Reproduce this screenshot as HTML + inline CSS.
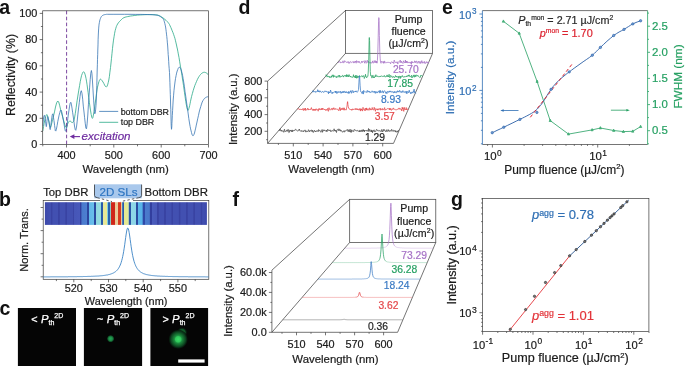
<!DOCTYPE html>
<html lang="en"><head><meta charset="utf-8"><title>Figure</title>
<style>html,body{margin:0;padding:0;background:#fff}svg{display:block}text{font-family:'Liberation Sans', Arial, sans-serif}</style>
</head><body>
<svg width="685" height="366" viewBox="0 0 685 366">
<rect width="685" height="366" fill="#fff"/>
<g id="panel-a">
<text x="-0.7" y="13.7" font-size="19.5" fill="#111" text-anchor="start" font-weight="bold">a</text>
<clipPath id="clipA"><rect x="42.7" y="10.8" width="165.8" height="133.7"/></clipPath>
<g clip-path="url(#clipA)">
<polyline points="42.8,131 43.1,129.1 43.6,126.4 44.1,123.5 44.6,121 45.1,118.8 45.7,116.7 46.3,115.1 46.8,114.5 47.3,115.2 47.8,117 48.3,119.1 48.8,121 49.2,123 49.6,125.3 50,127 50.5,127.3 51.1,125.8 51.8,123 52.6,119.5 53.5,116 54.5,111.9 55.5,107 56.6,102.9 57.7,101 58.7,102 59.6,105.2 60.5,109.2 61.5,113 62.6,116.8 63.8,121.2 64.9,125 65.9,127.3 66.6,127.5 67.1,126.2 67.5,124.4 68,123 68.5,122.2 69,121.5 69.5,121 70,120.8 70.6,121.1 71.1,121.8 71.7,122.5 72.3,122.6 72.8,122.3 73.3,121.8 73.9,120.6 74.5,118 75.3,113.4 76.2,107.3 77.1,100.8 78,95 78.8,90.1 79.6,85.5 80.3,81.4 81,78 81.6,75.4 82.3,73.6 82.8,72.4 83.4,71.8 83.9,71.9 84.5,72.8 85,74.2 85.5,76 86,78.3 86.5,81.1 87,84.3 87.5,88 88.1,92.4 88.7,97.5 89.4,102.6 90,107 90.6,110.9 91.2,114.5 91.8,117.3 92.4,118.4 92.9,117.5 93.4,115 94,111.6 94.5,108 95.1,103.8 95.8,98.9 96.4,94 97,90 97.5,87.1 98.1,84.8 98.5,83 99,81.5 99.4,80.4 99.8,79.6 100.2,79.3 100.6,79.2 101.1,79.5 101.7,80.1 102.3,81 103,82 103.8,83.4 104.6,85.1 105.5,86.5 106.3,87 107,86.3 107.6,84.9 108.2,82.7 108.8,80 109.4,76.5 109.9,72.2 110.5,67.6 111,63 111.5,58.3 112,53.3 112.5,48.4 113,44 113.5,40.1 114.1,36.5 114.6,33.3 115.2,30.5 115.8,28.3 116.3,26.7 116.9,25.3 117.6,24 118.4,22.8 119.3,21.7 120.2,20.8 121,20 121.7,19.3 122.4,18.6 123.1,18.1 124,17.6 125.1,17.2 126.2,16.9 127.6,16.6 129,16.3 130.6,16 132.4,15.8 134.2,15.5 136,15.3 137.6,15.1 139.1,15 140.8,14.9 142.6,14.8 144.8,14.7 147.3,14.6 149.8,14.6 152,14.6 153.8,14.7 155.4,14.8 156.8,15 158,15.2 158.9,15.5 159.6,15.8 160.2,16.1 161,16.6 161.9,17.2 163,17.9 164,18.7 165,19.5 166,20.3 166.9,21.2 167.8,22.2 168.7,23.3 169.5,24.5 170.1,25.9 170.8,27.4 171.5,29 172.2,30.8 173,32.7 173.7,34.7 174.4,36.7 175,38.7 175.5,40.8 176,42.9 176.5,45 176.9,47 177.4,49 177.8,51.2 178.3,53.9 179,57.5 179.7,61.8 180.4,66.1 181.1,70 181.6,73.2 182.1,76.1 182.5,79 183,82 183.5,85.5 184,89.1 184.5,92.7 185,96 185.4,98.9 185.8,101.6 186.2,104 186.6,106 186.9,107.7 187.3,109 187.6,110 187.9,110.4 188.2,110.2 188.6,109.5 188.9,108.4 189.3,107 189.7,105.4 190.1,103.5 190.5,101.3 191,99 191.6,96.4 192.4,93.5 193.2,90.6 194,88 194.8,85.6 195.7,83.4 196.6,81.3 197.4,79.5 198.2,77.9 199,76.6 199.7,75.5 200.5,74.5 201.3,73.7 202,73.1 202.8,72.7 203.5,72.4 204.2,72.3 204.8,72.3 205.4,72.5 206,72.8 206.7,73.2 207.4,73.8 208,74.4 208.4,74.8" fill="none" stroke="#2aaa88" stroke-width="0.8" stroke-linejoin="round" />
<polyline points="42.8,126 42.9,124.4 43.1,122.2 43.4,119.8 43.6,118 43.8,116.8 44,115.9 44.3,115.3 44.5,115.3 44.7,115.9 45,117.1 45.2,118.5 45.4,120 45.6,121.8 45.9,124 46.1,125.8 46.3,126.6 46.5,125.8 46.7,123.9 46.9,121.7 47.1,120 47.3,118.7 47.4,117.5 47.6,116.8 47.8,116.6 48.1,117.3 48.4,118.6 48.7,120.3 49,122 49.3,124.1 49.6,126.7 49.9,128.9 50.2,129.6 50.5,128.3 50.8,125.7 51.2,122.6 51.5,120 51.8,117.9 52.1,115.7 52.5,114.2 52.8,113.8 53.2,115 53.5,117.5 53.9,120.4 54.3,123 54.6,125.6 55,128.4 55.3,130.6 55.8,131.1 56.4,129.2 57.1,125.6 57.8,121.4 58.5,118 59.1,115.2 59.8,112.5 60.4,110.5 61,110 61.6,111.4 62.3,114.4 62.9,117.8 63.5,121 64.1,124.3 64.7,128 65.3,130.8 65.9,131.4 66.5,128.9 67.2,124.1 67.8,118.6 68.4,114 69,110.1 69.6,106.1 70.2,103.2 70.8,102.3 71.4,104.2 72,108.1 72.7,112.8 73.3,117 73.9,121.3 74.5,126 75.2,129.5 75.8,130.3 76.5,127.1 77.2,121.1 77.9,114.1 78.6,108 79.3,102.4 80,96.6 80.6,92.2 81.3,90.7 82,93.4 82.7,99.2 83.3,106.1 84,112 84.6,117.7 85.3,123.8 85.9,128.2 86.5,128.8 87.1,123.9 87.8,115 88.4,104.8 89,96 89.6,87.9 90.2,79.7 90.8,73.2 91.4,70.5 91.9,73.2 92.4,80 92.9,88.1 93.3,95 93.7,100.9 94.1,106.8 94.4,111.5 94.8,113.8 95.2,113 95.6,109.9 96,105.4 96.3,100 96.6,93.4 96.8,85.4 97,77.2 97.2,70 97.4,64.3 97.5,59.3 97.7,54.7 97.8,50 98,44.9 98.1,39.8 98.3,35 98.5,31 98.7,28.1 98.9,25.9 99.1,24.1 99.4,22.5 99.7,21 100,19.7 100.4,18.6 100.8,17.6 101.2,16.8 101.7,16.2 102.2,15.7 102.8,15.3 103.4,15 104,14.8 104.7,14.6 105.5,14.5 106.1,14.4 106.7,14.3 107.7,14.3 110,14.3 113.9,14.3 119,14.3 124.6,14.3 130,14.3 135.3,14.4 140.9,14.4 146,14.5 150,14.6 152.6,14.7 154.1,14.8 155,14.9 156,15 157,15.1 157.7,15.3 158.3,15.5 159,15.8 159.8,16.2 160.6,16.7 161.3,17.2 162,17.8 162.6,18.4 163.1,18.9 163.6,19.6 164,20.6 164.4,21.9 164.8,23.4 165.2,25.1 165.6,27 165.9,29.2 166.2,31.5 166.5,34.1 166.8,36.7 167.1,39.4 167.3,42.1 167.6,45 167.8,48 168,51.2 168.2,54.5 168.5,58 168.7,61.6 168.9,65.1 169.2,68.7 169.5,72.6 169.7,77 169.9,82.3 170.1,88.3 170.3,94.4 170.5,100 170.6,105 170.8,109.7 170.9,114.1 171,118 171.1,121.8 171.2,125.4 171.4,128.1 171.5,129.3 171.6,128.7 171.8,126.6 171.9,123.6 172.1,120 172.3,115.7 172.6,110.5 172.9,105.1 173.2,100 173.6,95.2 174,90.4 174.5,86 175,82 175.5,78.6 176.1,75.6 176.6,73.1 177.2,71 177.8,69.4 178.3,68.2 178.9,67.4 179.4,67.2 179.9,67.4 180.5,68.2 181,69.4 181.5,71 182,73 182.6,75.5 183.1,78.4 183.7,82 184.4,86.3 185,91.4 185.8,96.7 186.5,102 187.3,107.4 188.1,113.1 188.8,118.5 189.5,123 190.1,126.4 190.6,128.9 191.1,130.9 191.5,132.6 191.9,134 192.2,134.9 192.6,135.5 192.9,135.7 193.3,135.6 193.6,135.2 194,134.4 194.5,133 195,130.9 195.7,128.1 196.3,125.1 197,122 197.7,118.8 198.5,115.3 199.2,112 200,109 200.8,106.4 201.5,104.1 202.2,102.1 203,100.5 203.8,99.3 204.5,98.4 205.3,97.8 206,97.3 206.7,97 207.4,96.8 208,96.8 208.4,96.8" fill="none" stroke="#3876b4" stroke-width="0.8" stroke-linejoin="round" />
</g>
<line x1="66.6" y1="10.8" x2="66.6" y2="144.5" stroke="#64288f" stroke-width="0.85" stroke-dasharray="3.6 2.3"/>
<path d="M80 136.6H73" stroke="#6f2da0" stroke-width="1.1" fill="none"/>
<path d="M69.8 136.6L74.4 134.2V139Z" fill="#6f2da0"/>
<text x="81.6" y="140" font-size="11.6" fill="#6f2da0" text-anchor="start" font-style="italic" stroke="#6f2da0" stroke-width="0.2">excitation</text>
<line x1="99.2" y1="111.4" x2="118.2" y2="111.4" stroke="#3876b4" stroke-width="0.8" />
<line x1="99.2" y1="122.3" x2="118.2" y2="122.3" stroke="#2aaa88" stroke-width="0.8" />
<text x="120.7" y="114.9" font-size="8.9" fill="#1a1a1a" text-anchor="start"  stroke="#1a1a1a" stroke-width="0.2">bottom DBR</text>
<text x="120.7" y="125.2" font-size="8.9" fill="#1a1a1a" text-anchor="start"  stroke="#1a1a1a" stroke-width="0.2">top DBR</text>
<rect x="42.7" y="10.8" width="165.8" height="133.7" fill="none" stroke="#3a3a3a" stroke-width="0.7"/>
<line x1="42.8" y1="144.5" x2="42.8" y2="146.3" stroke="#3a3a3a" stroke-width="0.7" />
<line x1="66.5" y1="144.5" x2="66.5" y2="147.5" stroke="#3a3a3a" stroke-width="0.7" />
<text x="66.5" y="159.4" font-size="10.9" fill="#1a1a1a" text-anchor="middle"  stroke="#1a1a1a" stroke-width="0.2">400</text>
<line x1="90.2" y1="144.5" x2="90.2" y2="146.3" stroke="#3a3a3a" stroke-width="0.7" />
<line x1="113.8" y1="144.5" x2="113.8" y2="147.5" stroke="#3a3a3a" stroke-width="0.7" />
<text x="113.8" y="159.4" font-size="10.9" fill="#1a1a1a" text-anchor="middle"  stroke="#1a1a1a" stroke-width="0.2">500</text>
<line x1="137.5" y1="144.5" x2="137.5" y2="146.3" stroke="#3a3a3a" stroke-width="0.7" />
<line x1="161.2" y1="144.5" x2="161.2" y2="147.5" stroke="#3a3a3a" stroke-width="0.7" />
<text x="161.2" y="159.4" font-size="10.9" fill="#1a1a1a" text-anchor="middle"  stroke="#1a1a1a" stroke-width="0.2">600</text>
<line x1="184.8" y1="144.5" x2="184.8" y2="146.3" stroke="#3a3a3a" stroke-width="0.7" />
<line x1="208.5" y1="144.5" x2="208.5" y2="147.5" stroke="#3a3a3a" stroke-width="0.7" />
<text x="208.5" y="159.4" font-size="10.9" fill="#1a1a1a" text-anchor="middle"  stroke="#1a1a1a" stroke-width="0.2">700</text>
<line x1="42.7" y1="144.5" x2="39.7" y2="144.5" stroke="#3a3a3a" stroke-width="0.7" />
<text x="37.4" y="148.2" font-size="10.9" fill="#1a1a1a" text-anchor="end"  stroke="#1a1a1a" stroke-width="0.2">0</text>
<line x1="42.7" y1="131.4" x2="40.9" y2="131.4" stroke="#3a3a3a" stroke-width="0.7" />
<line x1="42.7" y1="118.3" x2="39.7" y2="118.3" stroke="#3a3a3a" stroke-width="0.7" />
<text x="37.4" y="122" font-size="10.9" fill="#1a1a1a" text-anchor="end"  stroke="#1a1a1a" stroke-width="0.2">20</text>
<line x1="42.7" y1="105.2" x2="40.9" y2="105.2" stroke="#3a3a3a" stroke-width="0.7" />
<line x1="42.7" y1="92.1" x2="39.7" y2="92.1" stroke="#3a3a3a" stroke-width="0.7" />
<text x="37.4" y="95.8" font-size="10.9" fill="#1a1a1a" text-anchor="end"  stroke="#1a1a1a" stroke-width="0.2">40</text>
<line x1="42.7" y1="79" x2="40.9" y2="79" stroke="#3a3a3a" stroke-width="0.7" />
<line x1="42.7" y1="65.8" x2="39.7" y2="65.8" stroke="#3a3a3a" stroke-width="0.7" />
<text x="37.4" y="69.5" font-size="10.9" fill="#1a1a1a" text-anchor="end"  stroke="#1a1a1a" stroke-width="0.2">60</text>
<line x1="42.7" y1="52.7" x2="40.9" y2="52.7" stroke="#3a3a3a" stroke-width="0.7" />
<line x1="42.7" y1="39.6" x2="39.7" y2="39.6" stroke="#3a3a3a" stroke-width="0.7" />
<text x="37.4" y="43.3" font-size="10.9" fill="#1a1a1a" text-anchor="end"  stroke="#1a1a1a" stroke-width="0.2">80</text>
<line x1="42.7" y1="26.5" x2="40.9" y2="26.5" stroke="#3a3a3a" stroke-width="0.7" />
<line x1="42.7" y1="13.4" x2="39.7" y2="13.4" stroke="#3a3a3a" stroke-width="0.7" />
<text x="37.4" y="17.1" font-size="10.9" fill="#1a1a1a" text-anchor="end"  stroke="#1a1a1a" stroke-width="0.2">100</text>
<text x="125.7" y="173.2" font-size="11.4" fill="#1a1a1a" text-anchor="middle"  stroke="#1a1a1a" stroke-width="0.2">Wavelength (nm)</text>
<text transform="translate(15.2 75) rotate(-90)" font-size="12.3" fill="#1a1a1a" text-anchor="middle"  stroke="#1a1a1a" stroke-width="0.2">Reflectivity (%)</text>
</g>
<g id="panel-b">
<text x="-1" y="206.3" font-size="19.5" fill="#111" text-anchor="start" font-weight="bold">b</text>
<defs><linearGradient id="strip" x1="0" y1="0" x2="1" y2="0">
<stop offset="0.0000" stop-color="#3c48aa"/>
<stop offset="0.0340" stop-color="#4250b1"/>
<stop offset="0.0383" stop-color="#3943a3"/>
<stop offset="0.0444" stop-color="#3943a3"/>
<stop offset="0.0488" stop-color="#4250b1"/>
<stop offset="0.0790" stop-color="#4250b1"/>
<stop offset="0.0833" stop-color="#3943a3"/>
<stop offset="0.0895" stop-color="#3943a3"/>
<stop offset="0.0938" stop-color="#4250b1"/>
<stop offset="0.1241" stop-color="#4250b1"/>
<stop offset="0.1284" stop-color="#3943a3"/>
<stop offset="0.1346" stop-color="#3943a3"/>
<stop offset="0.1389" stop-color="#4250b1"/>
<stop offset="0.1735" stop-color="#4250b1"/>
<stop offset="0.1772" stop-color="#3943a3"/>
<stop offset="0.1809" stop-color="#4656b7"/>
<stop offset="0.2167" stop-color="#4858ba"/>
<stop offset="0.2198" stop-color="#323e9e"/>
<stop offset="0.2241" stop-color="#323e9e"/>
<stop offset="0.2272" stop-color="#4a7acc"/>
<stop offset="0.2568" stop-color="#4c7ed0"/>
<stop offset="0.2605" stop-color="#2c449f"/>
<stop offset="0.2710" stop-color="#2c449f"/>
<stop offset="0.2747" stop-color="#62b8e8"/>
<stop offset="0.3019" stop-color="#68beea"/>
<stop offset="0.3049" stop-color="#2a4aa0"/>
<stop offset="0.3148" stop-color="#2a4aa0"/>
<stop offset="0.3185" stop-color="#8fd8e0"/>
<stop offset="0.3438" stop-color="#94dcde"/>
<stop offset="0.3481" stop-color="#2a5caa"/>
<stop offset="0.3580" stop-color="#2a5caa"/>
<stop offset="0.3617" stop-color="#e6e89a"/>
<stop offset="0.3815" stop-color="#ece890"/>
<stop offset="0.3864" stop-color="#7fd0e0"/>
<stop offset="0.3907" stop-color="#2a62b0"/>
<stop offset="0.4012" stop-color="#2a62b0"/>
<stop offset="0.4056" stop-color="#9adcc8"/>
<stop offset="0.4093" stop-color="#d0281a"/>
<stop offset="0.4296" stop-color="#cf2618"/>
<stop offset="0.4327" stop-color="#e8c898"/>
<stop offset="0.4488" stop-color="#ebcc9c"/>
<stop offset="0.4519" stop-color="#d83a20"/>
<stop offset="0.4679" stop-color="#d83a20"/>
<stop offset="0.4722" stop-color="#f0c890"/>
<stop offset="0.4772" stop-color="#9adcd8"/>
<stop offset="0.4796" stop-color="#2a5aaa"/>
<stop offset="0.4864" stop-color="#2a5aaa"/>
<stop offset="0.4901" stop-color="#e6e890"/>
<stop offset="0.5148" stop-color="#e2e896"/>
<stop offset="0.5185" stop-color="#5a9cc8"/>
<stop offset="0.5210" stop-color="#2a52a6"/>
<stop offset="0.5284" stop-color="#2a52a6"/>
<stop offset="0.5321" stop-color="#90d8e6"/>
<stop offset="0.5605" stop-color="#8ad4e8"/>
<stop offset="0.5642" stop-color="#2a4aa0"/>
<stop offset="0.5741" stop-color="#2a4aa0"/>
<stop offset="0.5778" stop-color="#5ab8ea"/>
<stop offset="0.6012" stop-color="#58b2e8"/>
<stop offset="0.6049" stop-color="#2f49a8"/>
<stop offset="0.6173" stop-color="#2f49a8"/>
<stop offset="0.6210" stop-color="#4a7acc"/>
<stop offset="0.6451" stop-color="#4a78ca"/>
<stop offset="0.6488" stop-color="#323e9e"/>
<stop offset="0.6593" stop-color="#323e9e"/>
<stop offset="0.6630" stop-color="#4a5cbc"/>
<stop offset="0.6889" stop-color="#4858b8"/>
<stop offset="0.6926" stop-color="#3943a3"/>
<stop offset="0.7006" stop-color="#3943a3"/>
<stop offset="0.7056" stop-color="#4250b1"/>
<stop offset="0.7340" stop-color="#4250b1"/>
<stop offset="0.7383" stop-color="#3943a3"/>
<stop offset="0.7444" stop-color="#3943a3"/>
<stop offset="0.7488" stop-color="#4250b1"/>
<stop offset="0.7790" stop-color="#4250b1"/>
<stop offset="0.7833" stop-color="#3943a3"/>
<stop offset="0.7895" stop-color="#3943a3"/>
<stop offset="0.7938" stop-color="#4250b1"/>
<stop offset="0.8241" stop-color="#4250b1"/>
<stop offset="0.8284" stop-color="#3943a3"/>
<stop offset="0.8346" stop-color="#3943a3"/>
<stop offset="0.8389" stop-color="#4250b1"/>
<stop offset="0.8691" stop-color="#4250b1"/>
<stop offset="0.8735" stop-color="#3943a3"/>
<stop offset="0.8796" stop-color="#3943a3"/>
<stop offset="0.8840" stop-color="#4250b1"/>
<stop offset="0.9142" stop-color="#4250b1"/>
<stop offset="0.9185" stop-color="#3943a3"/>
<stop offset="0.9247" stop-color="#3943a3"/>
<stop offset="0.9290" stop-color="#4250b1"/>
<stop offset="0.9593" stop-color="#4250b1"/>
<stop offset="0.9636" stop-color="#3943a3"/>
<stop offset="0.9698" stop-color="#3943a3"/>
<stop offset="0.9741" stop-color="#4250b1"/>
<stop offset="1.0000" stop-color="#3c48aa"/>
</linearGradient></defs>
<rect x="44.9" y="202.2" width="162" height="22.7" fill="url(#strip)"/>
<rect x="43.2" y="200.5" width="165.6" height="78.8" fill="none" stroke="#3a3a3a" stroke-width="0.7"/>
<text x="43.2" y="196.1" font-size="11.3" fill="#1a1a1a" text-anchor="start"  stroke="#1a1a1a" stroke-width="0.2">Top DBR</text>
<text x="144.6" y="196.1" font-size="11.4" fill="#1a1a1a" text-anchor="start"  stroke="#1a1a1a" stroke-width="0.2">Bottom DBR</text>
<rect x="100" y="199.4" width="33" height="2.4" fill="#fff"/>
<rect x="94.2" y="184.3" width="47.6" height="14" fill="#a9c8ec"/>
<text x="118.5" y="195.8" font-size="11.6" fill="#2f76c2" text-anchor="middle"  stroke="#2f76c2" stroke-width="0.2">2D SLs</text>
<path d="M94.5 184.6V195.4Q94.6 197.6 97.4 197.7" fill="none" stroke="#333" stroke-width="0.8"/>
<path d="M97.4 197.7L112 201.6" fill="none" stroke="#333" stroke-width="0.8" stroke-dasharray="2.4 2.2"/>
<path d="M141.6 184.6V195.4Q141.5 197.6 138.7 197.7" fill="none" stroke="#333" stroke-width="0.8"/>
<path d="M138.7 197.7L120.6 201.6" fill="none" stroke="#333" stroke-width="0.8" stroke-dasharray="2.4 2.2"/>
<polyline points="43.2,276.9 43.7,276.9 44.2,276.9 44.7,276.9 45.2,276.9 45.7,276.9 46.2,276.9 46.7,276.9 47.2,276.9 47.7,276.9 48.2,276.9 48.7,276.9 49.2,276.9 49.7,276.9 50.2,276.9 50.7,276.8 51.2,276.8 51.7,276.8 52.2,276.8 52.7,276.8 53.2,276.8 53.7,276.8 54.2,276.8 54.7,276.8 55.2,276.8 55.7,276.8 56.2,276.8 56.7,276.8 57.2,276.8 57.7,276.8 58.2,276.8 58.7,276.8 59.2,276.8 59.7,276.8 60.2,276.8 60.7,276.8 61.2,276.8 61.7,276.8 62.2,276.8 62.7,276.8 63.2,276.8 63.7,276.8 64.2,276.8 64.7,276.8 65.2,276.8 65.7,276.8 66.2,276.8 66.7,276.8 67.2,276.8 67.7,276.8 68.2,276.7 68.7,276.7 69.2,276.7 69.7,276.7 70.2,276.7 70.7,276.7 71.2,276.7 71.7,276.7 72.2,276.7 72.7,276.7 73.2,276.7 73.7,276.7 74.2,276.7 74.7,276.7 75.2,276.7 75.7,276.7 76.2,276.7 76.7,276.7 77.2,276.6 77.7,276.6 78.2,276.6 78.7,276.6 79.2,276.6 79.7,276.6 80.2,276.6 80.7,276.6 81.2,276.6 81.7,276.6 82.2,276.6 82.7,276.6 83.2,276.5 83.7,276.5 84.2,276.5 84.7,276.5 85.2,276.5 85.7,276.5 86.2,276.5 86.7,276.5 87.2,276.5 87.7,276.4 88.2,276.4 88.7,276.4 89.2,276.4 89.7,276.4 90.2,276.4 90.7,276.4 91.2,276.3 91.7,276.3 92.2,276.3 92.7,276.3 93.2,276.3 93.7,276.2 94.2,276.2 94.7,276.2 95.2,276.2 95.7,276.1 96.2,276.1 96.7,276.1 97.2,276.1 97.7,276 98.2,276 98.7,276 99.2,275.9 99.7,275.9 100.2,275.8 100.7,275.8 101.2,275.8 101.7,275.7 102.2,275.7 102.7,275.6 103.2,275.5 103.7,275.5 104.2,275.4 104.7,275.4 105.2,275.3 105.7,275.2 106.2,275.1 106.7,275 107.2,275 107.7,274.9 108.2,274.7 108.7,274.6 109.2,274.5 109.7,274.4 110.2,274.2 110.7,274.1 111.2,273.9 111.7,273.7 112.2,273.5 112.7,273.3 113.2,273.1 113.7,272.8 114.2,272.5 114.7,272.2 115.2,271.9 115.7,271.5 116.2,271.1 116.7,270.6 117.2,270.1 117.7,269.5 118.2,268.8 118.7,268.1 119.2,267.2 119.7,266.2 120.2,265.1 120.7,263.9 121.2,262.4 121.7,260.7 122.2,258.8 122.7,256.6 123.2,254.1 123.7,251.3 124.2,248.2 124.7,244.8 125.2,241.1 125.7,237.4 126.2,234 126.7,231 127.2,228.9 127.7,228 128.2,228.4 128.7,230.1 129.2,232.7 129.7,236 130.2,239.6 130.7,243.3 131.2,246.8 131.7,250.1 132.2,253.1 132.7,255.7 133.2,258 133.7,260 134.2,261.8 134.7,263.3 135.2,264.6 135.7,265.8 136.2,266.8 136.7,267.7 137.2,268.5 137.7,269.2 138.2,269.8 138.7,270.4 139.2,270.9 139.7,271.3 140.2,271.7 140.7,272.1 141.2,272.4 141.7,272.7 142.2,273 142.7,273.2 143.2,273.5 143.7,273.7 144.2,273.8 144.7,274 145.2,274.2 145.7,274.3 146.2,274.5 146.7,274.6 147.2,274.7 147.7,274.8 148.2,274.9 148.7,275 149.2,275.1 149.7,275.2 150.2,275.3 150.7,275.3 151.2,275.4 151.7,275.5 152.2,275.5 152.7,275.6 153.2,275.6 153.7,275.7 154.2,275.7 154.7,275.8 155.2,275.8 155.7,275.9 156.2,275.9 156.7,275.9 157.2,276 157.7,276 158.2,276 158.7,276.1 159.2,276.1 159.7,276.1 160.2,276.2 160.7,276.2 161.2,276.2 161.7,276.2 162.2,276.2 162.7,276.3 163.2,276.3 163.7,276.3 164.2,276.3 164.7,276.3 165.2,276.4 165.7,276.4 166.2,276.4 166.7,276.4 167.2,276.4 167.7,276.4 168.2,276.5 168.7,276.5 169.2,276.5 169.7,276.5 170.2,276.5 170.7,276.5 171.2,276.5 171.7,276.5 172.2,276.5 172.7,276.6 173.2,276.6 173.7,276.6 174.2,276.6 174.7,276.6 175.2,276.6 175.7,276.6 176.2,276.6 176.7,276.6 177.2,276.6 177.7,276.6 178.2,276.6 178.7,276.7 179.2,276.7 179.7,276.7 180.2,276.7 180.7,276.7 181.2,276.7 181.7,276.7 182.2,276.7 182.7,276.7 183.2,276.7 183.7,276.7 184.2,276.7 184.7,276.7 185.2,276.7 185.7,276.7 186.2,276.7 186.7,276.7 187.2,276.7 187.7,276.7 188.2,276.8 188.7,276.8 189.2,276.8 189.7,276.8 190.2,276.8 190.7,276.8 191.2,276.8 191.7,276.8 192.2,276.8 192.7,276.8 193.2,276.8 193.7,276.8 194.2,276.8 194.7,276.8 195.2,276.8 195.7,276.8 196.2,276.8 196.7,276.8 197.2,276.8 197.7,276.8 198.2,276.8 198.7,276.8 199.2,276.8 199.7,276.8 200.2,276.8 200.7,276.8 201.2,276.8 201.7,276.8 202.2,276.8 202.7,276.8 203.2,276.8 203.7,276.8 204.2,276.8 204.7,276.8 205.2,276.8 205.7,276.9 206.2,276.9 206.7,276.9 207.2,276.9 207.7,276.9 208.2,276.9 208.7,276.9" fill="none" stroke="#3a82c4" stroke-width="0.9" stroke-linejoin="round" />
<line x1="56.4" y1="279.3" x2="56.4" y2="281.1" stroke="#3a3a3a" stroke-width="0.7" />
<line x1="73.8" y1="279.3" x2="73.8" y2="282.3" stroke="#3a3a3a" stroke-width="0.7" />
<text x="73.8" y="292.3" font-size="10.9" fill="#1a1a1a" text-anchor="middle"  stroke="#1a1a1a" stroke-width="0.2">520</text>
<line x1="91.2" y1="279.3" x2="91.2" y2="281.1" stroke="#3a3a3a" stroke-width="0.7" />
<line x1="108.5" y1="279.3" x2="108.5" y2="282.3" stroke="#3a3a3a" stroke-width="0.7" />
<text x="108.5" y="292.3" font-size="10.9" fill="#1a1a1a" text-anchor="middle"  stroke="#1a1a1a" stroke-width="0.2">530</text>
<line x1="125.8" y1="279.3" x2="125.8" y2="281.1" stroke="#3a3a3a" stroke-width="0.7" />
<line x1="143.2" y1="279.3" x2="143.2" y2="282.3" stroke="#3a3a3a" stroke-width="0.7" />
<text x="143.2" y="292.3" font-size="10.9" fill="#1a1a1a" text-anchor="middle"  stroke="#1a1a1a" stroke-width="0.2">540</text>
<line x1="160.6" y1="279.3" x2="160.6" y2="281.1" stroke="#3a3a3a" stroke-width="0.7" />
<line x1="177.9" y1="279.3" x2="177.9" y2="282.3" stroke="#3a3a3a" stroke-width="0.7" />
<text x="177.9" y="292.3" font-size="10.9" fill="#1a1a1a" text-anchor="middle"  stroke="#1a1a1a" stroke-width="0.2">550</text>
<line x1="195.2" y1="279.3" x2="195.2" y2="281.1" stroke="#3a3a3a" stroke-width="0.7" />
<line x1="43.2" y1="207.5" x2="40.6" y2="207.5" stroke="#3a3a3a" stroke-width="0.7" />
<line x1="43.2" y1="219.1" x2="41.6" y2="219.1" stroke="#3a3a3a" stroke-width="0.7" />
<line x1="43.2" y1="230.6" x2="40.6" y2="230.6" stroke="#3a3a3a" stroke-width="0.7" />
<line x1="43.2" y1="242.2" x2="41.6" y2="242.2" stroke="#3a3a3a" stroke-width="0.7" />
<line x1="43.2" y1="253.7" x2="40.6" y2="253.7" stroke="#3a3a3a" stroke-width="0.7" />
<line x1="43.2" y1="265.3" x2="41.6" y2="265.3" stroke="#3a3a3a" stroke-width="0.7" />
<line x1="43.2" y1="276.8" x2="40.6" y2="276.8" stroke="#3a3a3a" stroke-width="0.7" />
<text x="126.1" y="305.3" font-size="10.9" fill="#1a1a1a" text-anchor="middle"  stroke="#1a1a1a" stroke-width="0.2">Wavelength (nm)</text>
<text transform="translate(27.8 240) rotate(-90)" font-size="11" fill="#1a1a1a" text-anchor="middle"  stroke="#1a1a1a" stroke-width="0.2">Norm. Trans.</text>
</g>
<g id="panel-c">
<text x="-0.5" y="315.3" font-size="19.5" fill="#111" text-anchor="start" font-weight="bold">c</text>
<defs>
<radialGradient id="gl2"><stop offset="0" stop-color="#24a454"/><stop offset="0.45" stop-color="#1e8e48"/><stop offset="0.75" stop-color="#0f4c26"/><stop offset="1" stop-color="#050505" stop-opacity="0"/></radialGradient>
<radialGradient id="gl3"><stop offset="0" stop-color="#3cdc68"/><stop offset="0.27" stop-color="#30c85a"/><stop offset="0.39" stop-color="#1c8c40"/><stop offset="0.55" stop-color="#156c2f"/><stop offset="0.75" stop-color="#0c4220"/><stop offset="0.9" stop-color="#061c0d" stop-opacity="0.8"/><stop offset="1" stop-color="#050505" stop-opacity="0"/></radialGradient>
<radialGradient id="gl3b"><stop offset="0" stop-color="#14702f"/><stop offset="0.55" stop-color="#0f5426"/><stop offset="1" stop-color="#050505" stop-opacity="0"/></radialGradient>
</defs>
<rect x="17.9" y="308" width="58.1" height="59" fill="#050505"/>
<rect x="83.9" y="308" width="58.2" height="59" fill="#050505"/>
<rect x="150.4" y="308" width="57.7" height="59" fill="#050505"/>
<circle cx="110.6" cy="338.7" r="4" fill="url(#gl2)"/>
<circle cx="182.1" cy="332.4" r="5.6" fill="url(#gl3b)"/>
<circle cx="178.2" cy="339.3" r="10" fill="url(#gl3)"/>
<rect x="178.2" y="359.4" width="26.4" height="3.2" fill="#fff"/>
<text x="31.2" y="322.5" font-size="10.8" fill="#fff" stroke="#fff" stroke-width="0.25">&lt; <tspan font-style="italic" font-size="11.3" dx="0.4">P</tspan><tspan font-size="7" dy="2.4">th</tspan><tspan font-size="7" dy="-6.6">2D</tspan></text>
<text x="97" y="322.5" font-size="10.8" fill="#fff" stroke="#fff" stroke-width="0.25">~ <tspan font-style="italic" font-size="11.3" dx="0.4">P</tspan><tspan font-size="7" dy="2.4">th</tspan><tspan font-size="7" dy="-6.6">2D</tspan></text>
<text x="162.4" y="322.5" font-size="10.8" fill="#fff" stroke="#fff" stroke-width="0.25">&gt; <tspan font-style="italic" font-size="11.3" dx="0.4">P</tspan><tspan font-size="7" dy="2.4">th</tspan><tspan font-size="7" dy="-6.6">2D</tspan></text>
</g>
<g id="panel-d">
<text x="238.5" y="13.8" font-size="19.5" fill="#111" text-anchor="start" font-weight="bold">d</text>
<rect x="345.5" y="10.5" width="87.1" height="42.8" fill="#fff" stroke="#3a3a3a" stroke-width="0.7"/>
<line x1="267.6" y1="81.1" x2="345.5" y2="10.5" stroke="#3a3a3a" stroke-width="0.7" />
<line x1="267.6" y1="143.4" x2="345.5" y2="53.3" stroke="#3a3a3a" stroke-width="0.7" />
<line x1="393.5" y1="143.4" x2="432.6" y2="53.3" stroke="#3a3a3a" stroke-width="0.7" />
<line x1="267.6" y1="81.1" x2="267.6" y2="143.4" stroke="#3a3a3a" stroke-width="0.7" />
<line x1="267.6" y1="143.4" x2="393.5" y2="143.4" stroke="#3a3a3a" stroke-width="0.7" />
<text x="408.6" y="22.8" font-size="10.6" fill="#1a1a1a" text-anchor="middle"  stroke="#1a1a1a" stroke-width="0.2">Pump</text>
<text x="408.6" y="35.1" font-size="10.6" fill="#1a1a1a" text-anchor="middle"  stroke="#1a1a1a" stroke-width="0.2">fluence</text>
<text x="408.6" y="47.4" font-size="10.6" fill="#1a1a1a" text-anchor="middle" letter-spacing="0.1" stroke="#1a1a1a" stroke-width="0.2">(&#181;J/cm<tspan font-size="7" dy="-4">2</tspan><tspan dy="4">)</tspan></text>
<polyline points="338.2,62 338.6,62.6 339,62 339.4,61.9 339.8,61.4 340.2,62 340.6,63.1 341,62.5 341.4,63 341.8,62.4 342.2,62.5 342.6,62.3 343,60.8 343.4,62.9 343.8,62.6 344.2,62.6 344.6,60.8 345,60.8 345.4,61.5 345.8,61.8 346.2,62.4 346.6,62.1 347,62.6 347.4,61.7 347.8,62.4 348.2,62.5 348.6,61.6 349,63.5 349.4,62.6 349.8,63.1 350.2,61.7 350.6,61.6 351,61.9 351.4,62.1 351.8,62.7 352.2,62.4 352.6,61.8 353,61.4 353.4,61.8 353.8,63.1 354.2,61.5 354.6,62.4 355,62.5 355.4,61 355.8,62.2 356.2,63.2 356.6,60.6 357,61.9 357.4,62.1 357.8,61.5 358.2,62.6 358.6,62.1 359,61 359.4,62.8 359.8,62.7 360.2,62.9 360.6,63.3 361,62.5 361.4,62.3 361.8,61.1 362.2,62.7 362.6,61.7 363,61.8 363.4,61.2 363.8,61.4 364.2,61.7 364.6,63.2 365,60.5 365.4,61 365.8,62.4 366.2,63.3 366.6,62.6 367,60.6 367.4,60.2 367.8,62.5 368.2,61.6 368.6,61.3 369,63 369.4,63.1 369.8,62.3 370.2,62.4 370.6,62.5 371,63.4 371.4,62.7 371.8,62.6 372.2,62.6 372.6,60.9 373,63.2 373.4,62.9 373.8,62.6 374.2,60.6 374.6,61.7 375,62.8 375.4,60.7 375.8,62 376.2,63 376.6,61.1 377,63.2 377.4,60.5 377.8,52.8 378.2,37.2 378.6,21.3 378.6,20.1 378.8,17.6 379,18.3 379.1,20.5 379.4,35.6 379.8,51.6 380.2,58.9 380.6,62.6 381,63.3 381.4,61.8 381.8,61.1 382.2,62.1 382.6,62.1 383,61.9 383.4,63.3 383.8,61.3 384.2,63.2 384.6,61.2 385,61.5 385.4,62.7 385.8,63.1 386.2,62.9 386.6,62.4 387,62.3 387.4,62.3 387.8,62.6 388.2,62 388.6,62.4 389,62.6 389.4,62.2 389.8,62.8 390.2,62.6 390.6,63.8 391,62.4 391.4,61.8 391.8,61.9 392.2,62.2 392.6,62.9 393,61.9 393.4,62.5 393.8,63.6 394.2,60.1 394.6,61.3 395,62.4 395.4,62.5 395.8,62.4 396.2,61.8 396.6,62.7 397,62.4 397.4,61.8 397.8,64.1 398.2,62.5 398.6,61.7 399,62.1 399.4,62 399.8,62.1 400.2,60 400.6,61.8 401,63 401.4,61.2 401.8,62.1 402.2,62.9 402.6,62.9 403,63.4 403.4,60.8 403.8,61.9 404.2,61.9 404.6,62.7 405,63 405.4,60 405.8,63 406.2,61 406.6,62.7 407,61 407.4,62.3 407.8,63.1 408.2,62 408.6,62.3 409,62.8 409.4,62.3 409.8,62.1 410.2,63.4 410.6,63 411,61.9 411.4,64.4 411.8,61.3 412.2,62.9 412.6,62 413,62.3 413.4,62.7 413.8,62.3 414.2,62.7 414.6,60.9 415,61 415.4,62.7 415.8,61.4 416.2,61.3 416.6,61 417,63.2 417.4,62.8 417.8,63.3 418.2,61.4 418.6,62.2 419,61.3 419.4,62.8 419.8,63.4 420.2,61.5 420.6,63.4 421,63 421.4,62 421.8,60.6 422.2,63.3 422.6,62.1 423,61.7 423.4,62.5 423.8,62.5 424.2,63.4 424.6,61.4 425,63.1 425.4,63.4 425.8,63.3 426.2,62 426.6,61.6 427,63 427.4,62.3 427.8,62.3 428.2,63.3 428.6,62" fill="none" stroke="#a672c6" stroke-width="0.75" stroke-linejoin="round" />
<text x="392.9" y="72.7" font-size="10.3" fill="#a672c6" text-anchor="start"  stroke="#a672c6" stroke-width="0.2">25.70</text>
<polyline points="325.9,74.6 326.3,76.1 326.7,74.9 327.1,77.1 327.5,76.7 327.9,75.9 328.3,76.4 328.7,77.1 329.1,76.5 329.5,77.5 329.9,76.4 330.3,77.2 330.7,77.6 331.1,77.7 331.5,75.9 331.9,77.1 332.3,74.9 332.7,75.5 333.1,74.8 333.5,77.3 333.9,75.4 334.3,76.4 334.7,76.3 335.1,76.4 335.5,75.9 335.9,76.6 336.3,77.8 336.7,76.4 337.1,76.8 337.5,77.2 337.9,76.2 338.3,75.4 338.7,76 339.1,77.3 339.5,75.1 339.9,75.9 340.3,77.2 340.7,77 341.1,76.4 341.5,77 341.9,76.5 342.3,75.5 342.7,75.2 343.1,75.9 343.5,77.1 343.9,76 344.3,75.7 344.7,75.8 345.1,75.2 345.5,76.3 345.9,75.5 346.3,76.7 346.7,74.5 347.1,76.7 347.5,75.9 347.9,74.9 348.3,77 348.7,76.2 349.1,74.6 349.5,75.7 349.9,76.6 350.3,76 350.7,77 351.1,77 351.5,76.9 351.9,76.7 352.3,77.5 352.7,76.9 353.1,76.8 353.5,74.7 353.9,77.1 354.3,77.5 354.7,76.2 355.1,76 355.5,78 355.9,75 356.3,76.8 356.7,78.3 357.1,75.7 357.5,77 357.9,77.9 358.3,76.3 358.7,76.9 359.1,77.1 359.5,75.7 359.9,76.3 360.3,76.6 360.7,77.1 361.1,76.4 361.5,76.2 361.9,75.6 362.3,76.1 362.7,77.1 363.1,76.5 363.5,75.7 363.9,75.7 364.3,78.5 364.7,77.3 365.1,76.9 365.5,74.3 365.9,76.9 366.3,76.8 366.7,77.8 367.1,76.7 367.5,76.3 367.9,76.4 368.3,71 368.7,60.5 369.1,41.8 369.1,40.3 369.3,37.5 369.5,40.3 369.6,40.4 369.9,56.2 370.3,71.5 370.7,75.9 371.1,76 371.5,75.6 371.9,78.1 372.3,77.2 372.7,75.4 373.1,75.3 373.5,77.8 373.9,77.2 374.3,77.9 374.7,77.1 375.1,75.7 375.5,76.6 375.9,74.7 376.3,75.8 376.7,76.4 377.1,76.8 377.5,75.8 377.9,76.3 378.3,76.8 378.7,76.7 379.1,76.9 379.5,76.6 379.9,76.1 380.3,77 380.7,76.4 381.1,75.7 381.5,75.9 381.9,76.4 382.3,76.3 382.7,76.5 383.1,76.4 383.5,76.5 383.9,76.3 384.3,75.4 384.7,76.7 385.1,77.2 385.5,76.8 385.9,76.3 386.3,76.8 386.7,75.6 387.1,74.9 387.5,76.5 387.9,75.7 388.3,77 388.7,75.5 389.1,74.3 389.5,75.6 389.9,77.7 390.3,76.1 390.7,75.3 391.1,75.8 391.5,76.8 391.9,76.8 392.3,76.5 392.7,77.6 393.1,77 393.5,76.4 393.9,76.9 394.3,77.7 394.7,77.2 395.1,77.2 395.5,75.5 395.9,76.3 396.3,77 396.7,76.2 397.1,77.3 397.5,76.9 397.9,77.1 398.3,76.2 398.7,78.4 399.1,77.4 399.5,76.2 399.9,76.5 400.3,78.5 400.7,76.1 401.1,77.1 401.5,77.2 401.9,76.4 402.3,75.5 402.7,76.6 403.1,76.7 403.5,77.3 403.9,77 404.3,76.4 404.7,77.1 405.1,76.8 405.5,76.6 405.9,76.4 406.3,76.2 406.7,77 407.1,75.6 407.5,75.9 407.9,76.4 408.3,75.2 408.7,76.1 409.1,74.8 409.5,75.9 409.9,76.9 410.3,76.9 410.7,76.4 411.1,76.2 411.5,75.3 411.9,77.9 412.3,76.8 412.7,77.3 413.1,75.7 413.5,76.3 413.9,74.9 414.3,77 414.7,77.2 415.1,74.9 415.5,76.4 415.9,76.9 416.3,75 416.7,74.9 417.1,75.6 417.5,75.9 417.9,75.3 418.3,76.4 418.7,76.6 419.1,76.9 419.5,77 419.9,77.6 420.3,77.3 420.7,75.4 421.1,76 421.5,75.6 421.9,75.5 422.3,76.3 422.7,76.4" fill="none" stroke="#25a062" stroke-width="0.75" stroke-linejoin="round" />
<text x="387.3" y="87.2" font-size="10.3" fill="#25a062" text-anchor="start"  stroke="#25a062" stroke-width="0.2">17.85</text>
<polyline points="312.5,92.3 312.9,90.6 313.3,90.9 313.7,91.9 314.1,91.7 314.5,91.7 314.9,91.9 315.3,91.3 315.7,92.5 316.1,92.2 316.5,91.8 316.9,91.4 317.3,91.8 317.7,89.7 318.1,91.1 318.5,91.9 318.9,90.7 319.3,92.1 319.7,92 320.1,90.8 320.5,91.7 320.9,91.7 321.3,92.3 321.7,92.4 322.1,91.9 322.5,91.2 322.9,91.8 323.3,91.9 323.7,92.5 324.1,92.1 324.5,91.3 324.9,90.8 325.3,91.6 325.7,91.3 326.1,91 326.5,91.8 326.9,91.5 327.3,92 327.7,92.3 328.1,91.6 328.5,93.8 328.9,91.6 329.3,92.8 329.7,92 330.1,92.8 330.5,90 330.9,91.3 331.3,92.1 331.7,92.4 332.1,93.8 332.5,92.2 332.9,92.9 333.3,92.5 333.7,92.7 334.1,92.3 334.5,91.8 334.9,92.3 335.3,91 335.7,92.8 336.1,91.1 336.5,92.1 336.9,93.6 337.3,91.7 337.7,91.9 338.1,92.8 338.5,91.9 338.9,91.3 339.3,92.1 339.7,92.4 340.1,92.5 340.5,91.3 340.9,93.3 341.3,93.2 341.7,91.9 342.1,92.1 342.5,91.6 342.9,93 343.3,91.3 343.7,92.4 344.1,91.5 344.5,91.3 344.9,92.5 345.3,93 345.7,91.9 346.1,91.4 346.5,92.6 346.9,91.9 347.3,92.2 347.7,93.1 348.1,92.8 348.5,91.5 348.9,93.7 349.3,91.9 349.7,92.5 350.1,91.4 350.5,91.9 350.9,90.5 351.3,93.3 351.7,93 352.1,90.9 352.5,90.7 352.9,90.6 353.3,92.8 353.7,91.5 354.1,91.9 354.5,91.7 354.9,91.8 355.3,91 355.7,91.9 356.1,90.8 356.5,91.8 356.9,92.1 357.3,92.3 357.7,91.7 358.1,90.8 358.5,89.6 358.9,82.9 359.1,79.2 359.3,77.1 359.4,75.8 359.6,77.6 359.7,77.7 360.1,85.2 360.5,90.3 360.9,92 361.3,92.3 361.7,92.4 362.1,93.6 362.5,91.3 362.9,91.9 363.3,94.1 363.7,90.4 364.1,91.5 364.5,92 364.9,92 365.3,92.2 365.7,91.7 366.1,92.2 366.5,91.9 366.9,92.5 367.3,90.4 367.7,91.2 368.1,91.9 368.5,91.1 368.9,91.1 369.3,92.4 369.7,91.4 370.1,92.4 370.5,92.5 370.9,92.1 371.3,92.3 371.7,91.8 372.1,90.8 372.5,91.9 372.9,92.3 373.3,91.5 373.7,91.8 374.1,92.5 374.5,91.2 374.9,92.4 375.3,93.4 375.7,91.5 376.1,92 376.5,91.8 376.9,93.1 377.3,92.2 377.7,92.6 378.1,91.4 378.5,91.9 378.9,91.9 379.3,90.5 379.7,93.1 380.1,92.6 380.5,90.5 380.9,92.5 381.3,91.8 381.7,92.3 382.1,92.2 382.5,90.7 382.9,91.7 383.3,93.1 383.7,91.4 384.1,91.1 384.5,90.8 384.9,90.9 385.3,92.2 385.7,93.3 386.1,92.2 386.5,92.1 386.9,93.7 387.3,91.5 387.7,91.4 388.1,92.3 388.5,92.3 388.9,91.1 389.3,91 389.7,92.1 390.1,92.1 390.5,90.9 390.9,91.7 391.3,91.5 391.7,92.3 392.1,91.8 392.5,91.8 392.9,91.6 393.3,92.7 393.7,93 394.1,91.6 394.5,92.6 394.9,91.3 395.3,92 395.7,92.5 396.1,93.1 396.5,91.6 396.9,91.8 397.3,92.1 397.7,90.7 398.1,91.9 398.5,91.4 398.9,92.2 399.3,91 399.7,90.3 400.1,91.9 400.5,92.1 400.9,91.5 401.3,92.6 401.7,91.7 402.1,91.4 402.5,92.3 402.9,90.6 403.3,91.4 403.7,91.9 404.1,92.6 404.5,91.8 404.9,92.1 405.3,91.4 405.7,92.1 406.1,93.2 406.5,91.4 406.9,93.8 407.3,91.4 407.7,91.9 408.1,92 408.5,92.7 408.9,90.9 409.3,90.2 409.7,92.4 410.1,92.5 410.5,92.4 410.9,94 411.3,92.1 411.7,92.1 412.1,92.6 412.5,92.2 412.9,93.2 413.3,90.9 413.7,91.6 414.1,89.1 414.5,92.6 414.9,91.6 415.3,92.6 415.7,93.6" fill="none" stroke="#3a7ac4" stroke-width="0.75" stroke-linejoin="round" />
<text x="380.9" y="102.5" font-size="10.3" fill="#3a7ac4" text-anchor="start"  stroke="#3a7ac4" stroke-width="0.2">8.93</text>
<polyline points="297.4,109.3 297.8,109.1 298.2,108.9 298.6,108.6 299,108.8 299.4,109.8 299.8,109.3 300.2,109.3 300.6,109.2 301,110 301.4,109.7 301.8,109.2 302.2,109.8 302.6,109.2 303,108.4 303.4,110.5 303.8,109.7 304.2,108.5 304.6,110.2 305,109.6 305.4,108 305.8,110.6 306.2,109.6 306.6,110 307,109.4 307.4,109.2 307.8,108.1 308.2,110.1 308.6,109.3 309,109.1 309.4,109.6 309.8,109.4 310.2,109.8 310.6,109 311,109.3 311.4,107.6 311.8,109 312.2,109.8 312.6,110.4 313,109 313.4,109.2 313.8,110.6 314.2,109 314.6,109.9 315,110.6 315.4,109.3 315.8,110.3 316.2,108.7 316.6,109.5 317,109.2 317.4,109.4 317.8,110.2 318.2,111.2 318.6,108.8 319,108.8 319.4,109.7 319.8,108.4 320.2,109.7 320.6,109.7 321,109.1 321.4,109.7 321.8,108.1 322.2,109.9 322.6,108.1 323,108.7 323.4,108.8 323.8,109 324.2,110 324.6,109.4 325,109 325.4,109.7 325.8,110.6 326.2,109.3 326.6,109.6 327,110.3 327.4,109.5 327.8,108.3 328.2,111.3 328.6,111.1 329,107.7 329.4,109.3 329.8,109.6 330.2,110.1 330.6,109.8 331,109.1 331.4,108.4 331.8,109.4 332.2,110.1 332.6,108.4 333,108.5 333.4,109.3 333.8,107.7 334.2,109.1 334.6,108.9 335,109.7 335.4,108.7 335.8,108.6 336.2,109 336.6,109.3 337,108.8 337.4,109.3 337.8,109.9 338.2,110.2 338.6,110.7 339,108.7 339.4,109 339.8,107.3 340.2,110.8 340.6,108.7 341,109.3 341.4,109.7 341.8,108.2 342.2,109.7 342.6,109.3 343,107.8 343.4,109.5 343.8,110.2 344.2,107.8 344.6,109.9 345,109.5 345.4,109.7 345.8,109.6 346.2,110.1 346.6,107.8 347,106.1 347.4,102.7 347.4,103.2 347.6,101.6 347.8,102.9 347.9,104.4 348.2,106.3 348.6,108.2 349,108.2 349.4,108.6 349.8,109.4 350.2,110 350.6,109.6 351,109.7 351.4,109.3 351.8,110.4 352.2,109 352.6,108.9 353,110 353.4,109.3 353.8,109.1 354.2,108.8 354.6,109.1 355,109.8 355.4,109.6 355.8,108.3 356.2,109.6 356.6,109.4 357,108.5 357.4,109.9 357.8,109.1 358.2,109 358.6,109.9 359,110.3 359.4,108.7 359.8,109.6 360.2,108.6 360.6,111.1 361,108.9 361.4,110.2 361.8,108.8 362.2,109.9 362.6,111.1 363,107.3 363.4,108.9 363.8,109.7 364.2,109.2 364.6,108.8 365,111 365.4,109.4 365.8,108 366.2,110 366.6,107.9 367,110.2 367.4,108.8 367.8,109.4 368.2,110.3 368.6,109.4 369,108.2 369.4,107.9 369.8,110.2 370.2,109.9 370.6,108.6 371,110 371.4,109.7 371.8,109.8 372.2,107.5 372.6,109.1 373,110 373.4,109.9 373.8,110 374.2,107.3 374.6,109.4 375,109.7 375.4,111.3 375.8,108.5 376.2,109 376.6,109.3 377,110 377.4,108.9 377.8,110.2 378.2,108.7 378.6,109.5 379,108.9 379.4,109.4 379.8,108.7 380.2,108 380.6,110.2 381,109.5 381.4,108.8 381.8,109.5 382.2,110.1 382.6,108.5 383,109.2 383.4,109.7 383.8,109.7 384.2,109 384.6,107.6 385,110.3 385.4,109.6 385.8,109.3 386.2,109.1 386.6,109.5 387,109 387.4,108.5 387.8,108.7 388.2,108.8 388.6,108.8 389,108.4 389.4,109.8 389.8,108.2 390.2,109.8 390.6,108.5 391,109.6 391.4,110.4 391.8,109.5 392.2,108.7 392.6,109.3 393,109.4 393.4,107.9 393.8,108.8 394.2,109.4 394.6,108.9 395,109.4 395.4,109.9 395.8,109.9 396.2,110 396.6,109.8 397,109.1 397.4,109.3 397.8,109.1 398.2,109 398.6,109.1 399,107.9 399.4,109 399.8,109.3 400.2,108.5 400.6,109.3 401,109.7 401.4,109.2 401.8,111 402.2,107.2 402.6,109.1 403,107.8 403.4,110.1 403.8,111.4 404.2,107.3 404.6,109.4 405,109.7 405.4,109 405.8,109.7 406.2,107.5 406.6,110 407,109.6 407.4,109.3 407.8,108.8 408.2,109.8" fill="none" stroke="#e4474a" stroke-width="0.75" stroke-linejoin="round" />
<text x="374.8" y="119.9" font-size="10.3" fill="#e4474a" text-anchor="start"  stroke="#e4474a" stroke-width="0.2">3.57</text>
<polyline points="278.9,130.3 279.3,130.9 279.7,130.3 280.1,128.9 280.5,130.7 280.9,130.9 281.3,131.3 281.7,130 282.1,130.7 282.5,131.2 282.9,130.9 283.3,131.7 283.7,132.3 284.1,130 284.5,129.2 284.9,131.4 285.3,132 285.7,131.5 286.1,131.4 286.5,130.2 286.9,130.2 287.3,131.4 287.7,130 288.1,129.3 288.5,129.9 288.9,132.7 289.3,132.3 289.7,130.2 290.1,130.2 290.5,130.9 290.9,130.1 291.3,131.8 291.7,130.7 292.1,129.9 292.5,131.8 292.9,130.3 293.3,130.9 293.7,130.7 294.1,130.5 294.5,131 294.9,130.2 295.3,129.3 295.7,129 296.1,129.7 296.5,130.1 296.9,130.7 297.3,130.8 297.7,131.2 298.1,130.8 298.5,130.1 298.9,130.2 299.3,129 299.7,130.6 300.1,131.1 300.5,131.2 300.9,130.6 301.3,130.6 301.7,131.5 302.1,130.7 302.5,131.3 302.9,131.2 303.3,130.9 303.7,131.8 304.1,130.3 304.5,130.4 304.9,130.1 305.3,130.1 305.7,132 306.1,132.1 306.5,130.8 306.9,131.2 307.3,131.7 307.7,131.4 308.1,131.7 308.5,129.7 308.9,130.2 309.3,131.1 309.7,131.9 310.1,130.8 310.5,130 310.9,130.5 311.3,130.2 311.7,130 312.1,131.9 312.5,130.2 312.9,130.8 313.3,132.5 313.7,131.7 314.1,131 314.5,130.2 314.9,131.1 315.3,132 315.7,131.2 316.1,131.7 316.5,130.8 316.9,131.1 317.3,130.6 317.7,131.1 318.1,131.8 318.5,129.6 318.9,130.7 319.3,130.9 319.7,130.3 320.1,130.5 320.5,131.4 320.9,132.3 321.3,131.2 321.7,131 322.1,129.5 322.5,132.3 322.9,130.8 323.3,130.7 323.7,129.8 324.1,130.7 324.5,129.9 324.9,130.8 325.3,131.1 325.7,130.8 326.1,131 326.5,130.1 326.9,131.9 327.3,130.2 327.7,129.3 328.1,130.6 328.5,130.1 328.9,129.9 329.3,130.5 329.7,131 330.1,129.8 330.5,130.6 330.9,131.9 331.3,131.3 331.7,130.6 332.1,130.8 332.5,130.6 332.9,130.7 333.3,131.3 333.7,130.7 334.1,128.8 334.5,130.7 334.9,130 335.3,131.3 335.7,130.2 336.1,130.9 336.5,132.5 336.9,129.9 337.3,129.8 337.7,129.6 338.1,128.8 338.5,129.2 338.9,131 339.3,130.2 339.7,129.2 340.1,129.5 340.5,131.2 340.9,130.1 341.3,130.4 341.7,131 342.1,131.8 342.5,132.3 342.9,131.6 343.3,130.9 343.7,130.9 344.1,132.2 344.5,131.9 344.9,130.5 345.3,131.1 345.7,131 346.1,130.8 346.5,130.3 346.9,129.7 347.3,130.3 347.7,129.5 348.1,131.7 348.5,131.2 348.9,129.8 349.3,131.9 349.7,131.4 350.1,129.2 350.5,132.2 350.9,131.4 351.3,132.4 351.7,129.8 352.1,131.2 352.5,131.1 352.9,130.9 353.3,130.9 353.7,131.6 354.1,129.5 354.5,129.7 354.9,129.6 355.3,130.3 355.7,130.3 356.1,131 356.5,130.9 356.9,130.8 357.3,130.2 357.7,130.4 358.1,131.5 358.5,131.3 358.9,130.8 359.3,130.5 359.7,132 360.1,130.3 360.5,131.3 360.9,131.7 361.3,130.5 361.7,131.4 362.1,129.8 362.5,131.5 362.9,130.9 363.3,129.5 363.7,131.3 364.1,130 364.5,131.8 364.9,130.2 365.3,130.6 365.7,131 366.1,130.5 366.5,130.9 366.9,130.3 367.3,131.3 367.7,130.7 368.1,130.9 368.5,128.5 368.9,131.7 369.3,130.8 369.7,129.3 370.1,130.8 370.5,131.1 370.9,131.6 371.3,129.9 371.7,132 372.1,130.6 372.5,132.7 372.9,130.6 373.3,131.3 373.7,130.4 374.1,129.8 374.5,131.6 374.9,131.5 375.3,132 375.7,131.4 376.1,130.3 376.5,129.4 376.9,130.2 377.3,130.2 377.7,130.1 378.1,131.2 378.5,131 378.9,130.5 379.3,130.9 379.7,130.6 380.1,130.9 380.5,131.3 380.9,131.5 381.3,130.2 381.7,129.5 382.1,131.9 382.5,130.8 382.9,131.6 383.3,129.4 383.7,130.5 384.1,130.8 384.5,129.6 384.9,130.3 385.3,131.3 385.7,131.6 386.1,132 386.5,130 386.9,129.6 387.3,131.2 387.7,131.5 388.1,130.9 388.5,129.7 388.9,131.4 389.3,131.4 389.7,131.2 390.1,130.3 390.5,131 390.9,131.4 391.3,130.3 391.7,129.3 392.1,131 392.5,131.1 392.9,130.7 393.3,131.4 393.7,130.3 394.1,130.7 394.5,130.5 394.9,131.2 395.3,132 395.7,130.5 396.1,132.4 396.5,132 396.9,131.4 397.3,131.2 397.7,132.2 398.1,130.6 398.5,130.6 398.9,129.9" fill="none" stroke="#4a4a4a" stroke-width="0.75" stroke-linejoin="round" />
<text x="365" y="140.7" font-size="10.3" fill="#222" text-anchor="start"  stroke="#222" stroke-width="0.2">1.29</text>
<line x1="267.6" y1="81.1" x2="264.6" y2="81.1" stroke="#3a3a3a" stroke-width="0.7" />
<text x="262.4" y="84.9" font-size="10.9" fill="#1a1a1a" text-anchor="end"  stroke="#1a1a1a" stroke-width="0.2">800</text>
<line x1="267.6" y1="89.5" x2="266.1" y2="89.5" stroke="#3a3a3a" stroke-width="0.7" />
<line x1="267.6" y1="97.8" x2="264.6" y2="97.8" stroke="#3a3a3a" stroke-width="0.7" />
<text x="262.4" y="101.6" font-size="10.9" fill="#1a1a1a" text-anchor="end"  stroke="#1a1a1a" stroke-width="0.2">600</text>
<line x1="267.6" y1="106.2" x2="266.1" y2="106.2" stroke="#3a3a3a" stroke-width="0.7" />
<line x1="267.6" y1="114.6" x2="264.6" y2="114.6" stroke="#3a3a3a" stroke-width="0.7" />
<text x="262.4" y="118.4" font-size="10.9" fill="#1a1a1a" text-anchor="end"  stroke="#1a1a1a" stroke-width="0.2">400</text>
<line x1="267.6" y1="123" x2="266.1" y2="123" stroke="#3a3a3a" stroke-width="0.7" />
<line x1="267.6" y1="131.3" x2="264.6" y2="131.3" stroke="#3a3a3a" stroke-width="0.7" />
<text x="262.4" y="135.2" font-size="10.9" fill="#1a1a1a" text-anchor="end"  stroke="#1a1a1a" stroke-width="0.2">200</text>
<line x1="267.6" y1="139.7" x2="266.1" y2="139.7" stroke="#3a3a3a" stroke-width="0.7" />
<line x1="278.4" y1="143.4" x2="278.4" y2="144.9" stroke="#3a3a3a" stroke-width="0.7" />
<line x1="293.3" y1="143.4" x2="293.3" y2="146.4" stroke="#3a3a3a" stroke-width="0.7" />
<text x="293.3" y="159.4" font-size="10.9" fill="#1a1a1a" text-anchor="middle"  stroke="#1a1a1a" stroke-width="0.2">510</text>
<line x1="308.2" y1="143.4" x2="308.2" y2="144.9" stroke="#3a3a3a" stroke-width="0.7" />
<line x1="323.1" y1="143.4" x2="323.1" y2="146.4" stroke="#3a3a3a" stroke-width="0.7" />
<text x="323.1" y="159.4" font-size="10.9" fill="#1a1a1a" text-anchor="middle"  stroke="#1a1a1a" stroke-width="0.2">540</text>
<line x1="338" y1="143.4" x2="338" y2="144.9" stroke="#3a3a3a" stroke-width="0.7" />
<line x1="352.9" y1="143.4" x2="352.9" y2="146.4" stroke="#3a3a3a" stroke-width="0.7" />
<text x="352.9" y="159.4" font-size="10.9" fill="#1a1a1a" text-anchor="middle"  stroke="#1a1a1a" stroke-width="0.2">570</text>
<line x1="367.8" y1="143.4" x2="367.8" y2="144.9" stroke="#3a3a3a" stroke-width="0.7" />
<line x1="382.7" y1="143.4" x2="382.7" y2="146.4" stroke="#3a3a3a" stroke-width="0.7" />
<text x="382.7" y="159.4" font-size="10.9" fill="#1a1a1a" text-anchor="middle"  stroke="#1a1a1a" stroke-width="0.2">600</text>
<text x="331.5" y="172.8" font-size="11.4" fill="#1a1a1a" text-anchor="middle"  stroke="#1a1a1a" stroke-width="0.2">Wavelength (nm)</text>
<text transform="translate(236.6 109.3) rotate(-90)" font-size="11.3" fill="#1a1a1a" text-anchor="middle"  stroke="#1a1a1a" stroke-width="0.2">Intensity (a.u.)</text>
</g>
<g id="panel-f">
<text x="232.6" y="206.3" font-size="19.5" fill="#111" text-anchor="start" font-weight="bold">f</text>
<rect x="349.7" y="199.3" width="86.1" height="43.1" fill="#fff" stroke="#3a3a3a" stroke-width="0.7"/>
<line x1="271.9" y1="270.2" x2="349.7" y2="199.3" stroke="#3a3a3a" stroke-width="0.7" />
<line x1="271.9" y1="332.3" x2="349.7" y2="242.4" stroke="#3a3a3a" stroke-width="0.7" />
<line x1="397.6" y1="332.3" x2="435.8" y2="242.4" stroke="#3a3a3a" stroke-width="0.7" />
<line x1="271.9" y1="270.2" x2="271.9" y2="332.3" stroke="#3a3a3a" stroke-width="0.7" />
<line x1="271.9" y1="332.3" x2="397.6" y2="332.3" stroke="#3a3a3a" stroke-width="0.7" />
<text x="414.2" y="212.2" font-size="10.6" fill="#1a1a1a" text-anchor="middle"  stroke="#1a1a1a" stroke-width="0.2">Pump</text>
<text x="414.2" y="224.5" font-size="10.6" fill="#1a1a1a" text-anchor="middle"  stroke="#1a1a1a" stroke-width="0.2">fluence</text>
<text x="414.2" y="236.8" font-size="10.6" fill="#1a1a1a" text-anchor="middle" letter-spacing="0.1" stroke="#1a1a1a" stroke-width="0.2">(&#181;J/cm<tspan font-size="7" dy="-4">2</tspan><tspan dy="4">)</tspan></text>
<linearGradient id="tgf935" gradientUnits="userSpaceOnUse" x1="344.6" y1="0" x2="433.3" y2="0">
<stop offset="0.0000" stop-color="#a672c6" stop-opacity="0.38"/>
<stop offset="0.4653" stop-color="#a672c6" stop-opacity="0.38"/>
<stop offset="0.5036" stop-color="#a672c6" stop-opacity="1"/>
<stop offset="0.5397" stop-color="#a672c6" stop-opacity="1"/>
<stop offset="0.5780" stop-color="#a672c6" stop-opacity="0.38"/>
<stop offset="1.0000" stop-color="#a672c6" stop-opacity="0.38"/>
</linearGradient>
<polyline points="344.6,248.2 345,248.2 345.4,248.2 345.8,248.2 346.2,248.2 346.6,248.2 347,248.2 347.4,248.2 347.8,248.2 348.2,248.2 348.6,248.2 349,248.2 349.4,248.2 349.8,248.2 350.2,248.2 350.6,248.2 351,248.2 351.4,248.2 351.8,248.2 352.2,248.2 352.6,248.2 353,248.2 353.4,248.2 353.8,248.2 354.2,248.2 354.6,248.2 355,248.2 355.4,248.2 355.8,248.2 356.2,248.2 356.6,248.2 357,248.2 357.4,248.2 357.8,248.2 358.2,248.2 358.6,248.2 359,248.2 359.4,248.2 359.8,248.2 360.2,248.2 360.6,248.2 361,248.2 361.4,248.2 361.8,248.2 362.2,248.2 362.6,248.2 363,248.2 363.4,248.2 363.8,248.2 364.2,248.2 364.6,248.2 365,248.2 365.4,248.2 365.8,248.2 366.2,248.2 366.6,248.2 367,248.2 367.4,248.2 367.8,248.2 368.2,248.2 368.6,248.2 369,248.2 369.4,248.2 369.8,248.2 370.2,248.2 370.6,248.2 371,248.2 371.4,248.1 371.8,248.1 372.2,248.1 372.6,248.1 373,248.1 373.4,248.1 373.8,248.1 374.2,248.1 374.6,248.1 375,248.1 375.4,248.1 375.8,248.1 376.2,248.1 376.6,248.1 377,248.1 377.4,248 377.8,248 378.2,248 378.6,248 379,248 379.4,248 379.8,247.9 380.2,247.9 380.6,247.9 381,247.9 381.4,247.8 381.8,247.8 382.2,247.8 382.6,247.7 383,247.7 383.4,247.6 383.8,247.5 384.2,247.4 384.6,247.3 385,247.2 385.4,247.1 385.8,246.9 386.2,246.6 386.6,246.3 387,245.9 387.4,245.4 387.8,244.7 388.2,243.6 388.6,242.1 389,239.7 389.4,235.8 389.8,229.3 390.2,218.9 390.6,206.6 390.6,206.5 390.9,203.2 391,204.4 391.1,206.5 391.4,215.3 391.8,226.8 392.2,234.3 392.6,238.8 393,241.5 393.4,243.2 393.8,244.4 394.2,245.2 394.6,245.8 395,246.2 395.4,246.5 395.8,246.8 396.2,247 396.6,247.2 397,247.3 397.4,247.4 397.8,247.5 398.2,247.6 398.6,247.6 399,247.7 399.4,247.7 399.8,247.8 400.2,247.8 400.6,247.9 401,247.9 401.4,247.9 401.8,247.9 402.2,248 402.6,248 403,248 403.4,248 403.8,248 404.2,248 404.6,248.1 405,248.1 405.4,248.1 405.8,248.1 406.2,248.1 406.6,248.1 407,248.1 407.4,248.1 407.8,248.1 408.2,248.1 408.6,248.1 409,248.1 409.4,248.1 409.8,248.1 410.2,248.1 410.6,248.2 411,248.2 411.4,248.2 411.8,248.2 412.2,248.2 412.6,248.2 413,248.2 413.4,248.2 413.8,248.2 414.2,248.2 414.6,248.2 415,248.2 415.4,248.2 415.8,248.2 416.2,248.2 416.6,248.2 417,248.2 417.4,248.2 417.8,248.2 418.2,248.2 418.6,248.2 419,248.2 419.4,248.2 419.8,248.2 420.2,248.2 420.6,248.2 421,248.2 421.4,248.2 421.8,248.2 422.2,248.2 422.6,248.2 423,248.2 423.4,248.2 423.8,248.2 424.2,248.2 424.6,248.2 425,248.2 425.4,248.2 425.8,248.2 426.2,248.2 426.6,248.2 427,248.2 427.4,248.2 427.8,248.2 428.2,248.2 428.6,248.2 429,248.2 429.4,248.2 429.8,248.2 430.2,248.2 430.6,248.2 431,248.2 431.4,248.2 431.8,248.2 432.2,248.2 432.6,248.2 433,248.2" fill="none" stroke="url(#tgf935)" stroke-width="0.75" stroke-linejoin="round" />
<text x="401.2" y="258.8" font-size="10.3" fill="#a672c6" text-anchor="start"  stroke="#a672c6" stroke-width="0.2">73.29</text>
<linearGradient id="tgf775" gradientUnits="userSpaceOnUse" x1="332.2" y1="0" x2="427.2" y2="0">
<stop offset="0.0000" stop-color="#25a062" stop-opacity="0.38"/>
<stop offset="0.4716" stop-color="#25a062" stop-opacity="0.38"/>
<stop offset="0.5074" stop-color="#25a062" stop-opacity="1"/>
<stop offset="0.5410" stop-color="#25a062" stop-opacity="1"/>
<stop offset="0.5768" stop-color="#25a062" stop-opacity="0.38"/>
<stop offset="1.0000" stop-color="#25a062" stop-opacity="0.38"/>
</linearGradient>
<polyline points="332.2,262.6 332.6,262.6 333,262.6 333.4,262.6 333.8,262.6 334.2,262.6 334.6,262.6 335,262.6 335.4,262.6 335.8,262.6 336.2,262.6 336.6,262.6 337,262.6 337.4,262.6 337.8,262.6 338.2,262.6 338.6,262.6 339,262.6 339.4,262.6 339.8,262.6 340.2,262.6 340.6,262.6 341,262.6 341.4,262.6 341.8,262.6 342.2,262.6 342.6,262.6 343,262.6 343.4,262.6 343.8,262.6 344.2,262.6 344.6,262.6 345,262.6 345.4,262.6 345.8,262.6 346.2,262.6 346.6,262.6 347,262.6 347.4,262.6 347.8,262.6 348.2,262.6 348.6,262.6 349,262.6 349.4,262.6 349.8,262.6 350.2,262.6 350.6,262.6 351,262.6 351.4,262.6 351.8,262.6 352.2,262.6 352.6,262.6 353,262.6 353.4,262.6 353.8,262.6 354.2,262.6 354.6,262.6 355,262.6 355.4,262.6 355.8,262.6 356.2,262.6 356.6,262.6 357,262.6 357.4,262.6 357.8,262.6 358.2,262.6 358.6,262.6 359,262.6 359.4,262.6 359.8,262.6 360.2,262.6 360.6,262.6 361,262.6 361.4,262.6 361.8,262.6 362.2,262.6 362.6,262.6 363,262.6 363.4,262.6 363.8,262.6 364.2,262.6 364.6,262.6 365,262.5 365.4,262.5 365.8,262.5 366.2,262.5 366.6,262.5 367,262.5 367.4,262.5 367.8,262.5 368.2,262.5 368.6,262.5 369,262.5 369.4,262.5 369.8,262.5 370.2,262.5 370.6,262.5 371,262.4 371.4,262.4 371.8,262.4 372.2,262.4 372.6,262.4 373,262.3 373.4,262.3 373.8,262.3 374.2,262.3 374.6,262.2 375,262.2 375.4,262.1 375.8,262 376.2,262 376.6,261.9 377,261.7 377.4,261.6 377.8,261.4 378.2,261.1 378.6,260.8 379,260.3 379.4,259.6 379.8,258.6 380.2,257 380.6,254.3 381,249.9 381.4,243 381.8,236.2 381.8,235.5 382,234.1 382.2,235.4 382.2,236.2 382.6,242.8 383,249.8 383.4,254.3 383.8,256.9 384.2,258.5 384.6,259.6 385,260.3 385.4,260.8 385.8,261.1 386.2,261.4 386.6,261.6 387,261.7 387.4,261.9 387.8,262 388.2,262 388.6,262.1 389,262.2 389.4,262.2 389.8,262.3 390.2,262.3 390.6,262.3 391,262.3 391.4,262.4 391.8,262.4 392.2,262.4 392.6,262.4 393,262.4 393.4,262.5 393.8,262.5 394.2,262.5 394.6,262.5 395,262.5 395.4,262.5 395.8,262.5 396.2,262.5 396.6,262.5 397,262.5 397.4,262.5 397.8,262.5 398.2,262.5 398.6,262.5 399,262.5 399.4,262.6 399.8,262.6 400.2,262.6 400.6,262.6 401,262.6 401.4,262.6 401.8,262.6 402.2,262.6 402.6,262.6 403,262.6 403.4,262.6 403.8,262.6 404.2,262.6 404.6,262.6 405,262.6 405.4,262.6 405.8,262.6 406.2,262.6 406.6,262.6 407,262.6 407.4,262.6 407.8,262.6 408.2,262.6 408.6,262.6 409,262.6 409.4,262.6 409.8,262.6 410.2,262.6 410.6,262.6 411,262.6 411.4,262.6 411.8,262.6 412.2,262.6 412.6,262.6 413,262.6 413.4,262.6 413.8,262.6 414.2,262.6 414.6,262.6 415,262.6 415.4,262.6 415.8,262.6 416.2,262.6 416.6,262.6 417,262.6 417.4,262.6 417.8,262.6 418.2,262.6 418.6,262.6 419,262.6 419.4,262.6 419.8,262.6 420.2,262.6 420.6,262.6 421,262.6 421.4,262.6 421.8,262.6 422.2,262.6 422.6,262.6 423,262.6 423.4,262.6 423.8,262.6 424.2,262.6 424.6,262.6 425,262.6 425.4,262.6 425.8,262.6 426.2,262.6 426.6,262.6 427,262.6" fill="none" stroke="url(#tgf775)" stroke-width="0.75" stroke-linejoin="round" />
<text x="391.5" y="273.4" font-size="10.3" fill="#25a062" text-anchor="start"  stroke="#25a062" stroke-width="0.2">36.28</text>
<linearGradient id="tgf592" gradientUnits="userSpaceOnUse" x1="318" y1="0" x2="420.2" y2="0">
<stop offset="0.0000" stop-color="#3a7ac4" stop-opacity="0.7"/>
<stop offset="0.4718" stop-color="#3a7ac4" stop-opacity="0.7"/>
<stop offset="0.5050" stop-color="#3a7ac4" stop-opacity="1"/>
<stop offset="0.5363" stop-color="#3a7ac4" stop-opacity="1"/>
<stop offset="0.5696" stop-color="#3a7ac4" stop-opacity="0.7"/>
<stop offset="1.0000" stop-color="#3a7ac4" stop-opacity="0.7"/>
</linearGradient>
<polyline points="318,279.1 318.4,279.1 318.8,279.1 319.2,279.1 319.6,279.1 320,279.1 320.4,279.1 320.8,279.1 321.2,279.1 321.6,279.1 322,279.1 322.4,279.1 322.8,279.1 323.2,279.1 323.6,279.1 324,279.1 324.4,279.1 324.8,279.1 325.2,279.1 325.6,279.1 326,279.1 326.4,279.1 326.8,279.1 327.2,279.1 327.6,279.1 328,279.1 328.4,279.1 328.8,279.1 329.2,279.1 329.6,279.1 330,279.1 330.4,279.1 330.8,279.1 331.2,279.1 331.6,279.1 332,279.1 332.4,279.1 332.8,279.1 333.2,279.1 333.6,279.1 334,279.1 334.4,279.1 334.8,279.1 335.2,279.1 335.6,279.1 336,279.1 336.4,279.1 336.8,279.1 337.2,279.1 337.6,279.1 338,279.1 338.4,279.1 338.8,279.1 339.2,279.1 339.6,279.1 340,279.1 340.4,279.1 340.8,279.1 341.2,279.1 341.6,279.1 342,279.1 342.4,279.1 342.8,279.1 343.2,279.1 343.6,279.1 344,279.1 344.4,279.1 344.8,279.1 345.2,279.1 345.6,279.1 346,279.1 346.4,279.1 346.8,279.1 347.2,279.1 347.6,279.1 348,279.1 348.4,279.1 348.8,279.1 349.2,279.1 349.6,279.1 350,279.1 350.4,279.1 350.8,279.1 351.2,279.1 351.6,279.1 352,279 352.4,279 352.8,279 353.2,279 353.6,279 354,279 354.4,279 354.8,279 355.2,279 355.6,279 356,279 356.4,279 356.8,279 357.2,279 357.6,279 358,279 358.4,279 358.8,279 359.2,279 359.6,279 360,279 360.4,279 360.8,279 361.2,279 361.6,279 362,278.9 362.4,278.9 362.8,278.9 363.2,278.9 363.6,278.9 364,278.9 364.4,278.8 364.8,278.8 365.2,278.8 365.6,278.7 366,278.7 366.4,278.6 366.8,278.5 367.2,278.4 367.6,278.3 368,278.1 368.4,277.8 368.8,277.4 369.2,276.8 369.6,275.7 370,273.9 370.4,270.8 370.8,265.7 370.9,263.1 371.2,261.6 371.2,261.6 371.4,263.1 371.6,264.5 372,269.9 372.4,273.4 372.8,275.4 373.2,276.6 373.6,277.3 374,277.7 374.4,278 374.8,278.2 375.2,278.4 375.6,278.5 376,278.6 376.4,278.7 376.8,278.7 377.2,278.8 377.6,278.8 378,278.8 378.4,278.9 378.8,278.9 379.2,278.9 379.6,278.9 380,278.9 380.4,278.9 380.8,279 381.2,279 381.6,279 382,279 382.4,279 382.8,279 383.2,279 383.6,279 384,279 384.4,279 384.8,279 385.2,279 385.6,279 386,279 386.4,279 386.8,279 387.2,279 387.6,279 388,279 388.4,279 388.8,279 389.2,279 389.6,279 390,279 390.4,279 390.8,279 391.2,279.1 391.6,279.1 392,279.1 392.4,279.1 392.8,279.1 393.2,279.1 393.6,279.1 394,279.1 394.4,279.1 394.8,279.1 395.2,279.1 395.6,279.1 396,279.1 396.4,279.1 396.8,279.1 397.2,279.1 397.6,279.1 398,279.1 398.4,279.1 398.8,279.1 399.2,279.1 399.6,279.1 400,279.1 400.4,279.1 400.8,279.1 401.2,279.1 401.6,279.1 402,279.1 402.4,279.1 402.8,279.1 403.2,279.1 403.6,279.1 404,279.1 404.4,279.1 404.8,279.1 405.2,279.1 405.6,279.1 406,279.1 406.4,279.1 406.8,279.1 407.2,279.1 407.6,279.1 408,279.1 408.4,279.1 408.8,279.1 409.2,279.1 409.6,279.1 410,279.1 410.4,279.1 410.8,279.1 411.2,279.1 411.6,279.1 412,279.1 412.4,279.1 412.8,279.1 413.2,279.1 413.6,279.1 414,279.1 414.4,279.1 414.8,279.1 415.2,279.1 415.6,279.1 416,279.1 416.4,279.1 416.8,279.1 417.2,279.1 417.6,279.1 418,279.1 418.4,279.1 418.8,279.1 419.2,279.1 419.6,279.1 420,279.1" fill="none" stroke="url(#tgf592)" stroke-width="0.75" stroke-linejoin="round" />
<text x="383.7" y="289" font-size="10.3" fill="#3a7ac4" text-anchor="start"  stroke="#3a7ac4" stroke-width="0.2">18.24</text>
<linearGradient id="tgf388" gradientUnits="userSpaceOnUse" x1="302.1" y1="0" x2="412.4" y2="0">
<stop offset="0.0000" stop-color="#e4474a" stop-opacity="0.5"/>
<stop offset="0.4750" stop-color="#e4474a" stop-opacity="0.5"/>
<stop offset="0.5059" stop-color="#e4474a" stop-opacity="1"/>
<stop offset="0.5349" stop-color="#e4474a" stop-opacity="1"/>
<stop offset="0.5657" stop-color="#e4474a" stop-opacity="0.5"/>
<stop offset="1.0000" stop-color="#e4474a" stop-opacity="0.5"/>
</linearGradient>
<polyline points="302.1,297.4 302.5,297.4 302.9,297.4 303.3,297.4 303.7,297.4 304.1,297.4 304.5,297.4 304.9,297.4 305.3,297.4 305.7,297.4 306.1,297.4 306.5,297.4 306.9,297.4 307.3,297.4 307.7,297.4 308.1,297.4 308.5,297.4 308.9,297.4 309.3,297.4 309.7,297.4 310.1,297.4 310.5,297.4 310.9,297.4 311.3,297.4 311.7,297.4 312.1,297.4 312.5,297.4 312.9,297.4 313.3,297.4 313.7,297.4 314.1,297.4 314.5,297.4 314.9,297.4 315.3,297.4 315.7,297.4 316.1,297.4 316.5,297.4 316.9,297.4 317.3,297.4 317.7,297.4 318.1,297.4 318.5,297.4 318.9,297.4 319.3,297.4 319.7,297.4 320.1,297.4 320.5,297.4 320.9,297.4 321.3,297.4 321.7,297.4 322.1,297.4 322.5,297.4 322.9,297.4 323.3,297.4 323.7,297.4 324.1,297.4 324.5,297.4 324.9,297.4 325.3,297.4 325.7,297.4 326.1,297.4 326.5,297.4 326.9,297.4 327.3,297.4 327.7,297.4 328.1,297.4 328.5,297.4 328.9,297.4 329.3,297.4 329.7,297.4 330.1,297.4 330.5,297.4 330.9,297.4 331.3,297.4 331.7,297.4 332.1,297.4 332.5,297.4 332.9,297.4 333.3,297.4 333.7,297.4 334.1,297.4 334.5,297.4 334.9,297.4 335.3,297.4 335.7,297.4 336.1,297.4 336.5,297.4 336.9,297.4 337.3,297.4 337.7,297.4 338.1,297.4 338.5,297.4 338.9,297.4 339.3,297.4 339.7,297.4 340.1,297.4 340.5,297.4 340.9,297.4 341.3,297.4 341.7,297.4 342.1,297.4 342.5,297.4 342.9,297.4 343.3,297.4 343.7,297.4 344.1,297.4 344.5,297.4 344.9,297.4 345.3,297.4 345.7,297.4 346.1,297.4 346.5,297.4 346.9,297.4 347.3,297.4 347.7,297.4 348.1,297.4 348.5,297.4 348.9,297.4 349.3,297.4 349.7,297.4 350.1,297.4 350.5,297.4 350.9,297.4 351.3,297.4 351.7,297.4 352.1,297.4 352.5,297.4 352.9,297.3 353.3,297.3 353.7,297.3 354.1,297.3 354.5,297.3 354.9,297.3 355.3,297.2 355.7,297.2 356.1,297.1 356.5,297.1 356.9,297 357.3,296.8 357.7,296.6 358.1,296.2 358.5,295.4 358.9,294.1 359.2,292.7 359.3,292.6 359.5,292.2 359.7,292.5 359.8,292.7 360.1,294 360.5,295.4 360.9,296.1 361.3,296.6 361.7,296.8 362.1,297 362.5,297.1 362.9,297.1 363.3,297.2 363.7,297.2 364.1,297.3 364.5,297.3 364.9,297.3 365.3,297.3 365.7,297.3 366.1,297.3 366.5,297.4 366.9,297.4 367.3,297.4 367.7,297.4 368.1,297.4 368.5,297.4 368.9,297.4 369.3,297.4 369.7,297.4 370.1,297.4 370.5,297.4 370.9,297.4 371.3,297.4 371.7,297.4 372.1,297.4 372.5,297.4 372.9,297.4 373.3,297.4 373.7,297.4 374.1,297.4 374.5,297.4 374.9,297.4 375.3,297.4 375.7,297.4 376.1,297.4 376.5,297.4 376.9,297.4 377.3,297.4 377.7,297.4 378.1,297.4 378.5,297.4 378.9,297.4 379.3,297.4 379.7,297.4 380.1,297.4 380.5,297.4 380.9,297.4 381.3,297.4 381.7,297.4 382.1,297.4 382.5,297.4 382.9,297.4 383.3,297.4 383.7,297.4 384.1,297.4 384.5,297.4 384.9,297.4 385.3,297.4 385.7,297.4 386.1,297.4 386.5,297.4 386.9,297.4 387.3,297.4 387.7,297.4 388.1,297.4 388.5,297.4 388.9,297.4 389.3,297.4 389.7,297.4 390.1,297.4 390.5,297.4 390.9,297.4 391.3,297.4 391.7,297.4 392.1,297.4 392.5,297.4 392.9,297.4 393.3,297.4 393.7,297.4 394.1,297.4 394.5,297.4 394.9,297.4 395.3,297.4 395.7,297.4 396.1,297.4 396.5,297.4 396.9,297.4 397.3,297.4 397.7,297.4 398.1,297.4 398.5,297.4 398.9,297.4 399.3,297.4 399.7,297.4 400.1,297.4 400.5,297.4 400.9,297.4 401.3,297.4 401.7,297.4 402.1,297.4 402.5,297.4 402.9,297.4 403.3,297.4 403.7,297.4 404.1,297.4 404.5,297.4 404.9,297.4 405.3,297.4 405.7,297.4 406.1,297.4 406.5,297.4 406.9,297.4 407.3,297.4 407.7,297.4 408.1,297.4 408.5,297.4 408.9,297.4 409.3,297.4 409.7,297.4 410.1,297.4 410.5,297.4 410.9,297.4 411.3,297.4 411.7,297.4 412.1,297.4" fill="none" stroke="url(#tgf388)" stroke-width="0.75" stroke-linejoin="round" />
<text x="378.4" y="308.6" font-size="10.3" fill="#e4474a" text-anchor="start"  stroke="#e4474a" stroke-width="0.2">3.62</text>
<linearGradient id="tgf139" gradientUnits="userSpaceOnUse" x1="282.7" y1="0" x2="402.9" y2="0">
<stop offset="0.0000" stop-color="#4a4a4a" stop-opacity="0.62"/>
<stop offset="0.4683" stop-color="#4a4a4a" stop-opacity="0.62"/>
<stop offset="0.4966" stop-color="#4a4a4a" stop-opacity="0.62"/>
<stop offset="0.5232" stop-color="#4a4a4a" stop-opacity="0.62"/>
<stop offset="0.5515" stop-color="#4a4a4a" stop-opacity="0.62"/>
<stop offset="1.0000" stop-color="#4a4a4a" stop-opacity="0.62"/>
</linearGradient>
<polyline points="282.7,319.8 283.1,319.8 283.5,319.8 283.9,319.8 284.3,319.8 284.7,319.8 285.1,319.8 285.5,319.8 285.9,319.8 286.3,319.8 286.7,319.8 287.1,319.8 287.5,319.8 287.9,319.8 288.3,319.8 288.7,319.8 289.1,319.8 289.5,319.8 289.9,319.8 290.3,319.8 290.7,319.8 291.1,319.8 291.5,319.8 291.9,319.8 292.3,319.8 292.7,319.8 293.1,319.8 293.5,319.8 293.9,319.8 294.3,319.8 294.7,319.8 295.1,319.8 295.5,319.8 295.9,319.8 296.3,319.8 296.7,319.8 297.1,319.8 297.5,319.8 297.9,319.8 298.3,319.8 298.7,319.8 299.1,319.8 299.5,319.8 299.9,319.8 300.3,319.8 300.7,319.8 301.1,319.8 301.5,319.8 301.9,319.8 302.3,319.8 302.7,319.8 303.1,319.8 303.5,319.8 303.9,319.8 304.3,319.8 304.7,319.8 305.1,319.8 305.5,319.8 305.9,319.8 306.3,319.8 306.7,319.8 307.1,319.8 307.5,319.8 307.9,319.8 308.3,319.8 308.7,319.8 309.1,319.8 309.5,319.8 309.9,319.8 310.3,319.8 310.7,319.8 311.1,319.8 311.5,319.8 311.9,319.8 312.3,319.8 312.7,319.8 313.1,319.8 313.5,319.8 313.9,319.8 314.3,319.8 314.7,319.8 315.1,319.8 315.5,319.8 315.9,319.8 316.3,319.8 316.7,319.8 317.1,319.8 317.5,319.8 317.9,319.8 318.3,319.8 318.7,319.8 319.1,319.8 319.5,319.8 319.9,319.8 320.3,319.8 320.7,319.8 321.1,319.8 321.5,319.8 321.9,319.8 322.3,319.8 322.7,319.8 323.1,319.8 323.5,319.8 323.9,319.8 324.3,319.8 324.7,319.8 325.1,319.8 325.5,319.8 325.9,319.8 326.3,319.8 326.7,319.8 327.1,319.8 327.5,319.8 327.9,319.8 328.3,319.8 328.7,319.8 329.1,319.8 329.5,319.8 329.9,319.8 330.3,319.8 330.7,319.8 331.1,319.8 331.5,319.8 331.9,319.8 332.3,319.8 332.7,319.8 333.1,319.8 333.5,319.8 333.9,319.8 334.3,319.8 334.7,319.8 335.1,319.8 335.5,319.8 335.9,319.8 336.3,319.8 336.7,319.8 337.1,319.8 337.5,319.8 337.9,319.8 338.3,319.8 338.7,319.8 339.1,319.8 339.5,319.8 339.9,319.8 340.3,319.8 340.7,319.7 341.1,319.7 341.5,319.7 341.9,319.7 342.3,319.6 342.7,319.6 343.1,319.5 343.5,319.4 343.8,319.3 343.9,319.3 344,319.3 344.2,319.3 344.3,319.3 344.7,319.4 345.1,319.5 345.5,319.6 345.9,319.7 346.3,319.7 346.7,319.7 347.1,319.7 347.5,319.8 347.9,319.8 348.3,319.8 348.7,319.8 349.1,319.8 349.5,319.8 349.9,319.8 350.3,319.8 350.7,319.8 351.1,319.8 351.5,319.8 351.9,319.8 352.3,319.8 352.7,319.8 353.1,319.8 353.5,319.8 353.9,319.8 354.3,319.8 354.7,319.8 355.1,319.8 355.5,319.8 355.9,319.8 356.3,319.8 356.7,319.8 357.1,319.8 357.5,319.8 357.9,319.8 358.3,319.8 358.7,319.8 359.1,319.8 359.5,319.8 359.9,319.8 360.3,319.8 360.7,319.8 361.1,319.8 361.5,319.8 361.9,319.8 362.3,319.8 362.7,319.8 363.1,319.8 363.5,319.8 363.9,319.8 364.3,319.8 364.7,319.8 365.1,319.8 365.5,319.8 365.9,319.8 366.3,319.8 366.7,319.8 367.1,319.8 367.5,319.8 367.9,319.8 368.3,319.8 368.7,319.8 369.1,319.8 369.5,319.8 369.9,319.8 370.3,319.8 370.7,319.8 371.1,319.8 371.5,319.8 371.9,319.8 372.3,319.8 372.7,319.8 373.1,319.8 373.5,319.8 373.9,319.8 374.3,319.8 374.7,319.8 375.1,319.8 375.5,319.8 375.9,319.8 376.3,319.8 376.7,319.8 377.1,319.8 377.5,319.8 377.9,319.8 378.3,319.8 378.7,319.8 379.1,319.8 379.5,319.8 379.9,319.8 380.3,319.8 380.7,319.8 381.1,319.8 381.5,319.8 381.9,319.8 382.3,319.8 382.7,319.8 383.1,319.8 383.5,319.8 383.9,319.8 384.3,319.8 384.7,319.8 385.1,319.8 385.5,319.8 385.9,319.8 386.3,319.8 386.7,319.8 387.1,319.8 387.5,319.8 387.9,319.8 388.3,319.8 388.7,319.8 389.1,319.8 389.5,319.8 389.9,319.8 390.3,319.8 390.7,319.8 391.1,319.8 391.5,319.8 391.9,319.8 392.3,319.8 392.7,319.8 393.1,319.8 393.5,319.8 393.9,319.8 394.3,319.8 394.7,319.8 395.1,319.8 395.5,319.8 395.9,319.8 396.3,319.8 396.7,319.8 397.1,319.8 397.5,319.8 397.9,319.8 398.3,319.8 398.7,319.8 399.1,319.8 399.5,319.8 399.9,319.8 400.3,319.8 400.7,319.8 401.1,319.8 401.5,319.8 401.9,319.8 402.3,319.8 402.7,319.8" fill="none" stroke="url(#tgf139)" stroke-width="0.75" stroke-linejoin="round" />
<text x="367.9" y="329.9" font-size="10.3" fill="#222" text-anchor="start"  stroke="#222" stroke-width="0.2">0.36</text>
<line x1="271.9" y1="272.5" x2="268.9" y2="272.5" stroke="#3a3a3a" stroke-width="0.7" />
<text x="266.7" y="276.3" font-size="10.9" fill="#1a1a1a" text-anchor="end"  stroke="#1a1a1a" stroke-width="0.2">60.0k</text>
<line x1="271.9" y1="282.4" x2="270.4" y2="282.4" stroke="#3a3a3a" stroke-width="0.7" />
<line x1="271.9" y1="292.4" x2="268.9" y2="292.4" stroke="#3a3a3a" stroke-width="0.7" />
<text x="266.7" y="296.2" font-size="10.9" fill="#1a1a1a" text-anchor="end"  stroke="#1a1a1a" stroke-width="0.2">40.0k</text>
<line x1="271.9" y1="302.4" x2="270.4" y2="302.4" stroke="#3a3a3a" stroke-width="0.7" />
<line x1="271.9" y1="312.4" x2="268.9" y2="312.4" stroke="#3a3a3a" stroke-width="0.7" />
<text x="266.7" y="316.2" font-size="10.9" fill="#1a1a1a" text-anchor="end"  stroke="#1a1a1a" stroke-width="0.2">20.0k</text>
<line x1="271.9" y1="322.4" x2="270.4" y2="322.4" stroke="#3a3a3a" stroke-width="0.7" />
<line x1="271.9" y1="332.3" x2="268.9" y2="332.3" stroke="#3a3a3a" stroke-width="0.7" />
<text x="266.7" y="336.1" font-size="10.9" fill="#1a1a1a" text-anchor="end"  stroke="#1a1a1a" stroke-width="0.2">0.0</text>
<line x1="282" y1="332.3" x2="282" y2="333.8" stroke="#3a3a3a" stroke-width="0.7" />
<line x1="296.5" y1="332.3" x2="296.5" y2="335.3" stroke="#3a3a3a" stroke-width="0.7" />
<text x="296.5" y="348.4" font-size="10.9" fill="#1a1a1a" text-anchor="middle"  stroke="#1a1a1a" stroke-width="0.2">510</text>
<line x1="311" y1="332.3" x2="311" y2="333.8" stroke="#3a3a3a" stroke-width="0.7" />
<line x1="325.5" y1="332.3" x2="325.5" y2="335.3" stroke="#3a3a3a" stroke-width="0.7" />
<text x="325.5" y="348.4" font-size="10.9" fill="#1a1a1a" text-anchor="middle"  stroke="#1a1a1a" stroke-width="0.2">540</text>
<line x1="340.1" y1="332.3" x2="340.1" y2="333.8" stroke="#3a3a3a" stroke-width="0.7" />
<line x1="354.6" y1="332.3" x2="354.6" y2="335.3" stroke="#3a3a3a" stroke-width="0.7" />
<text x="354.6" y="348.4" font-size="10.9" fill="#1a1a1a" text-anchor="middle"  stroke="#1a1a1a" stroke-width="0.2">570</text>
<line x1="369.1" y1="332.3" x2="369.1" y2="333.8" stroke="#3a3a3a" stroke-width="0.7" />
<line x1="383.6" y1="332.3" x2="383.6" y2="335.3" stroke="#3a3a3a" stroke-width="0.7" />
<text x="383.6" y="348.4" font-size="10.9" fill="#1a1a1a" text-anchor="middle"  stroke="#1a1a1a" stroke-width="0.2">600</text>
<text x="335.5" y="363" font-size="11.4" fill="#1a1a1a" text-anchor="middle"  stroke="#1a1a1a" stroke-width="0.2">Wavelength (nm)</text>
<text transform="translate(232 301) rotate(-90)" font-size="11.3" fill="#1a1a1a" text-anchor="middle"  stroke="#1a1a1a" stroke-width="0.2">Intensity (a.u.)</text>
</g>
<g id="panel-e">
<text x="442.1" y="13.6" font-size="19.5" fill="#111" text-anchor="start" font-weight="bold">e</text>
<clipPath id="clipE"><rect x="482.4" y="10.6" width="165.2" height="133.9"/></clipPath>
<polyline points="503.4,21.3 519.2,33.3 537.1,81.5 550.2,120.6 568.5,134.1 592.1,129.9 600.4,128 613.7,130.5 623.4,131.6 632.8,131.3 640.6,126.6" fill="none" stroke="#25a062" stroke-width="0.8" stroke-linejoin="round" />
<path d="M503.4 19.9L502.2 22.2L504.5 22.2Z" fill="#5cbc8a" stroke="#25a062" stroke-width="0.6"/>
<path d="M519.2 31.9L518.1 34.2L520.4 34.2Z" fill="#5cbc8a" stroke="#25a062" stroke-width="0.6"/>
<path d="M537.1 80.1L536 82.4L538.2 82.4Z" fill="#5cbc8a" stroke="#25a062" stroke-width="0.6"/>
<path d="M550.2 119.2L549.1 121.5L551.4 121.5Z" fill="#5cbc8a" stroke="#25a062" stroke-width="0.6"/>
<path d="M568.5 132.7L567.4 135L569.6 135Z" fill="#5cbc8a" stroke="#25a062" stroke-width="0.6"/>
<path d="M592.1 128.5L591 130.8L593.2 130.8Z" fill="#5cbc8a" stroke="#25a062" stroke-width="0.6"/>
<path d="M600.4 126.6L599.2 128.9L601.5 128.9Z" fill="#5cbc8a" stroke="#25a062" stroke-width="0.6"/>
<path d="M613.7 129.1L612.6 131.4L614.9 131.4Z" fill="#5cbc8a" stroke="#25a062" stroke-width="0.6"/>
<path d="M623.4 130.2L622.2 132.5L624.5 132.5Z" fill="#5cbc8a" stroke="#25a062" stroke-width="0.6"/>
<path d="M632.8 129.9L631.6 132.2L633.9 132.2Z" fill="#5cbc8a" stroke="#25a062" stroke-width="0.6"/>
<path d="M640.6 125.2L639.5 127.5L641.8 127.5Z" fill="#5cbc8a" stroke="#25a062" stroke-width="0.6"/>
<polyline points="492.2,132.7 494.2,131.8 497,130.4 500.3,128.9 503.8,127.2 507.7,125.3 512.1,123.2 516.3,121.1 519.9,119.4 522.5,118.1 524.5,117.1 526.3,116.2 528,115.3 529.8,114.3 531.6,113.3 533.2,112.3 534.7,111.2 536.1,110.1 537.3,109 538.4,107.8 539.5,106.6 540.5,105.4 541.5,104.1 542.5,102.8 543.4,101.4 544.3,100 545.2,98.5 546.1,97 547,95.5 548,93.9 549,92.3 550.1,90.8 551.1,89.3 552.1,88 553,86.7 554,85.5 555,84.3 556.2,83.1 557.4,81.8 558.6,80.6 559.8,79.5 560.9,78.5 561.9,77.7 562.9,76.9 564,76 565.1,75.1 566.2,74.2 567.5,73.2 569.2,71.9 571.5,70.2 574.2,68.2 577.1,66.1 580,64 583.1,61.8 586.3,59.6 589.5,57.4 592.3,55.2 594.5,53.3 596.3,51.5 598.1,49.6 600.4,47.4 603.4,44.6 606.9,41.3 610.5,38.2 613.7,35.5 616.5,33.6 619.1,32 621.6,30.7 624,29.4 626.3,27.9 628.6,26.5 630.7,25.1 632.8,23.9 635,22.9 637.2,22 639.2,21.3 640.6,20.8" fill="none" stroke="#2a5fa6" stroke-width="0.9" stroke-linejoin="round" />
<line x1="530.3" y1="117.3" x2="572.9" y2="63.1" stroke="#dc2430" stroke-width="1.0" stroke-dasharray="3.4 2.4"/>
<circle cx="492.2" cy="132.7" r="1.2" fill="#6f9cd4" stroke="#2a5fa6" stroke-width="0.6"/>
<circle cx="503.8" cy="127.2" r="1.2" fill="#6f9cd4" stroke="#2a5fa6" stroke-width="0.6"/>
<circle cx="519.9" cy="119.4" r="1.2" fill="#6f9cd4" stroke="#2a5fa6" stroke-width="0.6"/>
<circle cx="536.9" cy="112.4" r="1.2" fill="#6f9cd4" stroke="#2a5fa6" stroke-width="0.6"/>
<circle cx="551.1" cy="89.3" r="1.2" fill="#6f9cd4" stroke="#2a5fa6" stroke-width="0.6"/>
<circle cx="569.2" cy="71.9" r="1.2" fill="#6f9cd4" stroke="#2a5fa6" stroke-width="0.6"/>
<circle cx="592.3" cy="55.2" r="1.2" fill="#6f9cd4" stroke="#2a5fa6" stroke-width="0.6"/>
<circle cx="600.4" cy="47.4" r="1.2" fill="#6f9cd4" stroke="#2a5fa6" stroke-width="0.6"/>
<circle cx="613.7" cy="35.5" r="1.2" fill="#6f9cd4" stroke="#2a5fa6" stroke-width="0.6"/>
<circle cx="624" cy="29.4" r="1.2" fill="#6f9cd4" stroke="#2a5fa6" stroke-width="0.6"/>
<circle cx="632.8" cy="23.9" r="1.2" fill="#6f9cd4" stroke="#2a5fa6" stroke-width="0.6"/>
<circle cx="640.6" cy="20.8" r="1.2" fill="#6f9cd4" stroke="#2a5fa6" stroke-width="0.6"/>
<line x1="502.5" y1="110.5" x2="518.5" y2="110.5" stroke="#2f6fb4" stroke-width="0.8" />
<path d="M500.3 110.5L503.7 109.2V111.8Z" fill="#2f6fb4"/>
<line x1="610.9" y1="110.2" x2="627.5" y2="110.2" stroke="#25a062" stroke-width="0.8" />
<path d="M629.8 110.2L626.4 108.9V111.5Z" fill="#25a062"/>
<text x="518.3" y="24.4" font-size="10.75" fill="#2a2a2a" stroke="#2a2a2a" stroke-width="0.2"><tspan font-style="italic">P</tspan><tspan font-size="6.8" dy="2.0">th</tspan><tspan font-size="6.8" dy="-6.2">mon</tspan><tspan dy="4.2"> = 2.71 &#181;J/cm</tspan><tspan font-size="6.8" dy="-4.4">2</tspan></text>
<text x="539.8" y="37.3" font-size="10.9" fill="#dc2430" stroke="#dc2430" stroke-width="0.2"><tspan font-style="italic">p</tspan><tspan font-size="6.8" dy="-4.4">mon</tspan><tspan dy="4.4"> = 1.70</tspan></text>
<line x1="482.4" y1="10.6" x2="647.6" y2="10.6" stroke="#3a3a3a" stroke-width="0.7" />
<line x1="482.4" y1="144.5" x2="647.6" y2="144.5" stroke="#3a3a3a" stroke-width="0.7" />
<line x1="482.4" y1="10.6" x2="482.4" y2="144.5" stroke="#2f6fb4" stroke-width="0.8" />
<line x1="647.6" y1="10.6" x2="647.6" y2="144.5" stroke="#25a062" stroke-width="0.8" />
<line x1="482.4" y1="143.8" x2="480.9" y2="143.8" stroke="#2f6fb4" stroke-width="0.8" />
<line x1="482.4" y1="130.3" x2="480.9" y2="130.3" stroke="#2f6fb4" stroke-width="0.8" />
<line x1="482.4" y1="120.8" x2="480.9" y2="120.8" stroke="#2f6fb4" stroke-width="0.8" />
<line x1="482.4" y1="113.4" x2="480.9" y2="113.4" stroke="#2f6fb4" stroke-width="0.8" />
<line x1="482.4" y1="107.3" x2="480.9" y2="107.3" stroke="#2f6fb4" stroke-width="0.8" />
<line x1="482.4" y1="102.2" x2="480.9" y2="102.2" stroke="#2f6fb4" stroke-width="0.8" />
<line x1="482.4" y1="97.8" x2="480.9" y2="97.8" stroke="#2f6fb4" stroke-width="0.8" />
<line x1="482.4" y1="93.9" x2="480.9" y2="93.9" stroke="#2f6fb4" stroke-width="0.8" />
<line x1="482.4" y1="90.4" x2="479.4" y2="90.4" stroke="#2f6fb4" stroke-width="0.8" />
<line x1="482.4" y1="67.4" x2="480.9" y2="67.4" stroke="#2f6fb4" stroke-width="0.8" />
<line x1="482.4" y1="53.9" x2="480.9" y2="53.9" stroke="#2f6fb4" stroke-width="0.8" />
<line x1="482.4" y1="44.4" x2="480.9" y2="44.4" stroke="#2f6fb4" stroke-width="0.8" />
<line x1="482.4" y1="37" x2="480.9" y2="37" stroke="#2f6fb4" stroke-width="0.8" />
<line x1="482.4" y1="30.9" x2="480.9" y2="30.9" stroke="#2f6fb4" stroke-width="0.8" />
<line x1="482.4" y1="25.8" x2="480.9" y2="25.8" stroke="#2f6fb4" stroke-width="0.8" />
<line x1="482.4" y1="21.4" x2="480.9" y2="21.4" stroke="#2f6fb4" stroke-width="0.8" />
<line x1="482.4" y1="17.5" x2="480.9" y2="17.5" stroke="#2f6fb4" stroke-width="0.8" />
<line x1="482.4" y1="14" x2="479.4" y2="14" stroke="#2f6fb4" stroke-width="0.8" />
<text x="476.5" y="94.9" font-size="11" fill="#2f6fb4" text-anchor="end" stroke="#2f6fb4" stroke-width="0.2">10<tspan font-size="8.2" dy="-4.4" dx="0.6">2</tspan></text>
<text x="476.5" y="18.5" font-size="11" fill="#2f6fb4" text-anchor="end" stroke="#2f6fb4" stroke-width="0.2">10<tspan font-size="8.2" dy="-4.4" dx="0.6">3</tspan></text>
<line x1="647.6" y1="143.8" x2="649" y2="143.8" stroke="#25a062" stroke-width="0.8" />
<line x1="647.6" y1="130.7" x2="650" y2="130.7" stroke="#25a062" stroke-width="0.8" />
<text x="652" y="134.2" font-size="11.4" fill="#25a062" text-anchor="start"  stroke="#25a062" stroke-width="0.2">0.5</text>
<line x1="647.6" y1="117.6" x2="649" y2="117.6" stroke="#25a062" stroke-width="0.8" />
<line x1="647.6" y1="104.6" x2="650" y2="104.6" stroke="#25a062" stroke-width="0.8" />
<text x="652" y="108.1" font-size="11.4" fill="#25a062" text-anchor="start"  stroke="#25a062" stroke-width="0.2">1.0</text>
<line x1="647.6" y1="91.5" x2="649" y2="91.5" stroke="#25a062" stroke-width="0.8" />
<line x1="647.6" y1="78.4" x2="650" y2="78.4" stroke="#25a062" stroke-width="0.8" />
<text x="652" y="81.9" font-size="11.4" fill="#25a062" text-anchor="start"  stroke="#25a062" stroke-width="0.2">1.5</text>
<line x1="647.6" y1="65.4" x2="649" y2="65.4" stroke="#25a062" stroke-width="0.8" />
<line x1="647.6" y1="52.3" x2="650" y2="52.3" stroke="#25a062" stroke-width="0.8" />
<text x="652" y="55.8" font-size="11.4" fill="#25a062" text-anchor="start"  stroke="#25a062" stroke-width="0.2">2.0</text>
<line x1="647.6" y1="39.3" x2="649" y2="39.3" stroke="#25a062" stroke-width="0.8" />
<line x1="647.6" y1="26.2" x2="650" y2="26.2" stroke="#25a062" stroke-width="0.8" />
<text x="652" y="29.7" font-size="11.4" fill="#25a062" text-anchor="start"  stroke="#25a062" stroke-width="0.2">2.5</text>
<line x1="647.6" y1="13.1" x2="649" y2="13.1" stroke="#25a062" stroke-width="0.8" />
<line x1="487.6" y1="144.5" x2="487.6" y2="145.9" stroke="#3a3a3a" stroke-width="0.7" />
<line x1="492.4" y1="144.5" x2="492.4" y2="147.5" stroke="#3a3a3a" stroke-width="0.7" />
<line x1="524.1" y1="144.5" x2="524.1" y2="145.9" stroke="#3a3a3a" stroke-width="0.7" />
<line x1="542.6" y1="144.5" x2="542.6" y2="145.9" stroke="#3a3a3a" stroke-width="0.7" />
<line x1="555.8" y1="144.5" x2="555.8" y2="145.9" stroke="#3a3a3a" stroke-width="0.7" />
<line x1="566" y1="144.5" x2="566" y2="145.9" stroke="#3a3a3a" stroke-width="0.7" />
<line x1="574.3" y1="144.5" x2="574.3" y2="145.9" stroke="#3a3a3a" stroke-width="0.7" />
<line x1="581.4" y1="144.5" x2="581.4" y2="145.9" stroke="#3a3a3a" stroke-width="0.7" />
<line x1="587.5" y1="144.5" x2="587.5" y2="145.9" stroke="#3a3a3a" stroke-width="0.7" />
<line x1="592.9" y1="144.5" x2="592.9" y2="145.9" stroke="#3a3a3a" stroke-width="0.7" />
<line x1="597.7" y1="144.5" x2="597.7" y2="147.5" stroke="#3a3a3a" stroke-width="0.7" />
<line x1="629.4" y1="144.5" x2="629.4" y2="145.9" stroke="#3a3a3a" stroke-width="0.7" />
<text x="492.8" y="160.3" font-size="11.4" fill="#1a1a1a" text-anchor="middle" stroke="#1a1a1a" stroke-width="0.2">10<tspan font-size="8.4" dy="-4.2" dx="0.5">0</tspan></text>
<text x="598.1" y="160.3" font-size="11.4" fill="#1a1a1a" text-anchor="middle" stroke="#1a1a1a" stroke-width="0.2">10<tspan font-size="8.4" dy="-4.2" dx="0.5">1</tspan></text>
<text x="564.4" y="173.5" font-size="11.9" fill="#1a1a1a" text-anchor="middle" stroke="#1a1a1a" stroke-width="0.2">Pump fluence (&#181;J/cm<tspan font-size="7.8" dy="-4.6">2</tspan><tspan dy="4.6">)</tspan></text>
<text transform="translate(453.6 77.4) rotate(-90)" font-size="11.6" fill="#2f6fb4" text-anchor="middle"  stroke="#2f6fb4" stroke-width="0.2">Intensity (a.u.)</text>
<text transform="translate(681.8 76.5) rotate(-90)" font-size="11.8" fill="#25a062" text-anchor="middle"  stroke="#25a062" stroke-width="0.2">FWHM (nm)</text>
</g>
<g id="panel-g">
<text x="450.9" y="206" font-size="19.5" fill="#111" text-anchor="start" font-weight="bold">g</text>
<line x1="509.3" y1="330.6" x2="569.7" y2="255.8" stroke="#e3343a" stroke-width="0.9" />
<line x1="569.7" y1="255.8" x2="628.8" y2="200" stroke="#27548f" stroke-width="0.9" />
<circle cx="510.3" cy="329.3" r="1.15" fill="#777" stroke="#222" stroke-width="0.65"/>
<circle cx="525.6" cy="309.6" r="1.15" fill="#777" stroke="#222" stroke-width="0.65"/>
<circle cx="534.5" cy="296.3" r="1.15" fill="#777" stroke="#222" stroke-width="0.65"/>
<circle cx="545.5" cy="282.5" r="1.15" fill="#777" stroke="#222" stroke-width="0.65"/>
<circle cx="554.6" cy="272.6" r="1.15" fill="#777" stroke="#222" stroke-width="0.65"/>
<circle cx="560.8" cy="265.6" r="1.15" fill="#777" stroke="#222" stroke-width="0.65"/>
<circle cx="569.6" cy="255.8" r="1.15" fill="#777" stroke="#222" stroke-width="0.65"/>
<circle cx="576.2" cy="249.6" r="1.15" fill="#777" stroke="#222" stroke-width="0.65"/>
<circle cx="584.8" cy="241.5" r="1.15" fill="#777" stroke="#222" stroke-width="0.65"/>
<circle cx="591.5" cy="235.2" r="1.15" fill="#777" stroke="#222" stroke-width="0.65"/>
<circle cx="596.3" cy="230.7" r="1.15" fill="#777" stroke="#222" stroke-width="0.65"/>
<circle cx="600.5" cy="226.7" r="1.15" fill="#777" stroke="#222" stroke-width="0.65"/>
<circle cx="604" cy="223.4" r="1.15" fill="#777" stroke="#222" stroke-width="0.65"/>
<circle cx="607.4" cy="220.2" r="1.15" fill="#777" stroke="#222" stroke-width="0.65"/>
<circle cx="610.1" cy="217.6" r="1.15" fill="#777" stroke="#222" stroke-width="0.65"/>
<circle cx="612" cy="215.8" r="1.15" fill="#777" stroke="#222" stroke-width="0.65"/>
<circle cx="614.1" cy="213.9" r="1.15" fill="#777" stroke="#222" stroke-width="0.65"/>
<circle cx="620.8" cy="207.5" r="1.15" fill="#777" stroke="#222" stroke-width="0.65"/>
<circle cx="622.7" cy="205.7" r="1.15" fill="#777" stroke="#222" stroke-width="0.65"/>
<circle cx="626.9" cy="201.8" r="1.15" fill="#777" stroke="#222" stroke-width="0.65"/>
<text x="531.9" y="219.4" font-size="13" fill="#2f6fb4" stroke="#2f6fb4" stroke-width="0.2"><tspan font-style="italic">p</tspan><tspan font-size="8.8" dy="-3.2">agg</tspan><tspan dy="3.2"> = 0.78</tspan></text>
<text x="531.9" y="319.5" font-size="13" fill="#e3343a" stroke="#e3343a" stroke-width="0.2"><tspan font-style="italic">p</tspan><tspan font-size="8.8" dy="-3.2">agg</tspan><tspan dy="3.2"> = 1.01</tspan></text>
<rect x="482.6" y="198.5" width="166.3" height="133.1" fill="none" stroke="#3a3a3a" stroke-width="0.7"/>
<line x1="482.6" y1="331.3" x2="481.1" y2="331.3" stroke="#3a3a3a" stroke-width="0.7" />
<line x1="482.6" y1="326.4" x2="481.1" y2="326.4" stroke="#3a3a3a" stroke-width="0.7" />
<line x1="482.6" y1="322.3" x2="481.1" y2="322.3" stroke="#3a3a3a" stroke-width="0.7" />
<line x1="482.6" y1="318.7" x2="481.1" y2="318.7" stroke="#3a3a3a" stroke-width="0.7" />
<line x1="482.6" y1="315.5" x2="481.1" y2="315.5" stroke="#3a3a3a" stroke-width="0.7" />
<line x1="482.6" y1="312.7" x2="479.4" y2="312.7" stroke="#3a3a3a" stroke-width="0.7" />
<line x1="482.6" y1="294.1" x2="481.1" y2="294.1" stroke="#3a3a3a" stroke-width="0.7" />
<line x1="482.6" y1="283.3" x2="481.1" y2="283.3" stroke="#3a3a3a" stroke-width="0.7" />
<line x1="482.6" y1="275.6" x2="481.1" y2="275.6" stroke="#3a3a3a" stroke-width="0.7" />
<line x1="482.6" y1="269.6" x2="481.1" y2="269.6" stroke="#3a3a3a" stroke-width="0.7" />
<line x1="482.6" y1="264.7" x2="481.1" y2="264.7" stroke="#3a3a3a" stroke-width="0.7" />
<line x1="482.6" y1="260.6" x2="481.1" y2="260.6" stroke="#3a3a3a" stroke-width="0.7" />
<line x1="482.6" y1="257" x2="481.1" y2="257" stroke="#3a3a3a" stroke-width="0.7" />
<line x1="482.6" y1="253.8" x2="481.1" y2="253.8" stroke="#3a3a3a" stroke-width="0.7" />
<line x1="482.6" y1="251" x2="479.4" y2="251" stroke="#3a3a3a" stroke-width="0.7" />
<line x1="482.6" y1="232.4" x2="481.1" y2="232.4" stroke="#3a3a3a" stroke-width="0.7" />
<line x1="482.6" y1="221.6" x2="481.1" y2="221.6" stroke="#3a3a3a" stroke-width="0.7" />
<line x1="482.6" y1="213.9" x2="481.1" y2="213.9" stroke="#3a3a3a" stroke-width="0.7" />
<line x1="482.6" y1="207.9" x2="481.1" y2="207.9" stroke="#3a3a3a" stroke-width="0.7" />
<line x1="482.6" y1="203" x2="481.1" y2="203" stroke="#3a3a3a" stroke-width="0.7" />
<line x1="482.6" y1="198.9" x2="481.1" y2="198.9" stroke="#3a3a3a" stroke-width="0.7" />
<text x="476.8" y="317.1" font-size="11" fill="#1a1a1a" text-anchor="end" stroke="#1a1a1a" stroke-width="0.2">10<tspan font-size="8.6" dy="-4.4" dx="0.6">3</tspan></text>
<text x="476.8" y="255.4" font-size="11" fill="#1a1a1a" text-anchor="end" stroke="#1a1a1a" stroke-width="0.2">10<tspan font-size="8.6" dy="-4.4" dx="0.6">4</tspan></text>
<line x1="482.6" y1="331.6" x2="482.6" y2="334.7" stroke="#3a3a3a" stroke-width="0.7" />
<line x1="497.8" y1="331.6" x2="497.8" y2="333" stroke="#3a3a3a" stroke-width="0.7" />
<line x1="506.6" y1="331.6" x2="506.6" y2="333" stroke="#3a3a3a" stroke-width="0.7" />
<line x1="512.9" y1="331.6" x2="512.9" y2="333" stroke="#3a3a3a" stroke-width="0.7" />
<line x1="517.8" y1="331.6" x2="517.8" y2="333" stroke="#3a3a3a" stroke-width="0.7" />
<line x1="521.8" y1="331.6" x2="521.8" y2="333" stroke="#3a3a3a" stroke-width="0.7" />
<line x1="525.2" y1="331.6" x2="525.2" y2="333" stroke="#3a3a3a" stroke-width="0.7" />
<line x1="528.1" y1="331.6" x2="528.1" y2="333" stroke="#3a3a3a" stroke-width="0.7" />
<line x1="530.7" y1="331.6" x2="530.7" y2="333" stroke="#3a3a3a" stroke-width="0.7" />
<line x1="533" y1="331.6" x2="533" y2="334.7" stroke="#3a3a3a" stroke-width="0.7" />
<line x1="548.2" y1="331.6" x2="548.2" y2="333" stroke="#3a3a3a" stroke-width="0.7" />
<line x1="557" y1="331.6" x2="557" y2="333" stroke="#3a3a3a" stroke-width="0.7" />
<line x1="563.3" y1="331.6" x2="563.3" y2="333" stroke="#3a3a3a" stroke-width="0.7" />
<line x1="568.2" y1="331.6" x2="568.2" y2="333" stroke="#3a3a3a" stroke-width="0.7" />
<line x1="572.2" y1="331.6" x2="572.2" y2="333" stroke="#3a3a3a" stroke-width="0.7" />
<line x1="575.6" y1="331.6" x2="575.6" y2="333" stroke="#3a3a3a" stroke-width="0.7" />
<line x1="578.5" y1="331.6" x2="578.5" y2="333" stroke="#3a3a3a" stroke-width="0.7" />
<line x1="581.1" y1="331.6" x2="581.1" y2="333" stroke="#3a3a3a" stroke-width="0.7" />
<line x1="583.4" y1="331.6" x2="583.4" y2="334.7" stroke="#3a3a3a" stroke-width="0.7" />
<line x1="598.6" y1="331.6" x2="598.6" y2="333" stroke="#3a3a3a" stroke-width="0.7" />
<line x1="607.4" y1="331.6" x2="607.4" y2="333" stroke="#3a3a3a" stroke-width="0.7" />
<line x1="613.7" y1="331.6" x2="613.7" y2="333" stroke="#3a3a3a" stroke-width="0.7" />
<line x1="618.6" y1="331.6" x2="618.6" y2="333" stroke="#3a3a3a" stroke-width="0.7" />
<line x1="622.6" y1="331.6" x2="622.6" y2="333" stroke="#3a3a3a" stroke-width="0.7" />
<line x1="626" y1="331.6" x2="626" y2="333" stroke="#3a3a3a" stroke-width="0.7" />
<line x1="628.9" y1="331.6" x2="628.9" y2="333" stroke="#3a3a3a" stroke-width="0.7" />
<line x1="631.5" y1="331.6" x2="631.5" y2="333" stroke="#3a3a3a" stroke-width="0.7" />
<line x1="633.8" y1="331.6" x2="633.8" y2="334.7" stroke="#3a3a3a" stroke-width="0.7" />
<line x1="649" y1="331.6" x2="649" y2="333" stroke="#3a3a3a" stroke-width="0.7" />
<text x="482.9" y="348.6" font-size="11.2" fill="#1a1a1a" text-anchor="middle" stroke="#1a1a1a" stroke-width="0.2">10<tspan font-size="8.4" dy="-4.4" dx="0.4">-1</tspan></text>
<text x="533.3" y="348.6" font-size="11.2" fill="#1a1a1a" text-anchor="middle" stroke="#1a1a1a" stroke-width="0.2">10<tspan font-size="8.4" dy="-4.4" dx="0.4">0</tspan></text>
<text x="583.7" y="348.6" font-size="11.2" fill="#1a1a1a" text-anchor="middle" stroke="#1a1a1a" stroke-width="0.2">10<tspan font-size="8.4" dy="-4.4" dx="0.4">1</tspan></text>
<text x="634.1" y="348.6" font-size="11.2" fill="#1a1a1a" text-anchor="middle" stroke="#1a1a1a" stroke-width="0.2">10<tspan font-size="8.4" dy="-4.4" dx="0.4">2</tspan></text>
<text x="565.3" y="362.4" font-size="12.6" fill="#1a1a1a" text-anchor="middle" stroke="#1a1a1a" stroke-width="0.2">Pump fluence (&#181;J/cm<tspan font-size="7.6" dy="-4.6">2</tspan><tspan dy="4.6">)</tspan></text>
<text transform="translate(455.6 265) rotate(-90)" font-size="12.5" fill="#1a1a1a" text-anchor="middle"  stroke="#1a1a1a" stroke-width="0.2">Intensity (a.u.)</text>
</g>
</svg>
</body></html>
